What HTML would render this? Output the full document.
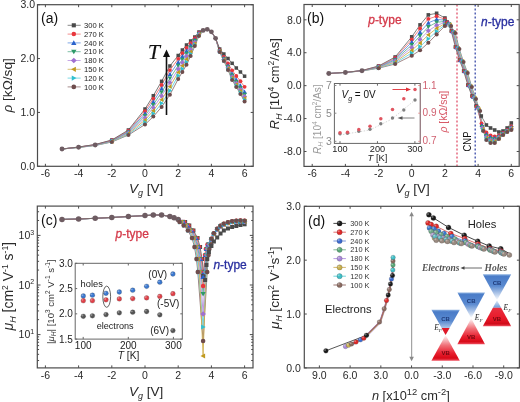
<!DOCTYPE html>
<html><head><meta charset="utf-8"><style>
html,body{margin:0;padding:0;background:#fff;overflow:hidden;width:520px;height:402px;}
svg{display:block;filter:blur(0.25px);}
</style></head><body>
<svg width="520" height="402" viewBox="0 0 520 402">
<rect width="520" height="402" fill="#fff"/>
<polyline points="62.00,149.00 78.60,147.50 95.20,145.50 111.80,142.00 128.40,135.00 145.00,124.50 153.30,116.60 161.60,107.00 169.90,94.80 178.20,79.00 182.35,72.00 186.50,64.80 190.65,56.00 194.80,46.00 198.95,36.00 203.10,31.00 207.25,29.50 211.40,32.00 215.55,38.50 219.70,52.00 223.85,61.00 228.00,70.00 232.15,80.00 236.30,87.00 240.45,94.00 244.60,101.50" fill="none" stroke="#907070" stroke-width="0.9" stroke-opacity="1.0"/>
<polyline points="62.00,149.00 78.60,147.43 95.20,145.36 111.80,141.71 128.40,134.29 145.00,122.29 153.30,113.61 161.60,103.33 169.90,90.69 178.20,75.64 182.35,68.86 186.50,61.97 190.65,53.86 194.80,44.71 198.95,35.43 203.10,30.83 207.25,29.46 211.40,31.96 215.55,38.47 219.70,51.79 223.85,60.51 228.00,69.19 232.15,78.83 236.30,85.67 240.45,92.46 244.60,99.73" fill="none" stroke="#60d0e0" stroke-width="0.9" stroke-opacity="1.0"/>
<polyline points="62.00,149.00 78.60,147.36 95.20,145.21 111.80,141.43 128.40,133.57 145.00,120.07 153.30,110.63 161.60,99.66 169.90,86.57 178.20,72.29 182.35,65.71 186.50,59.14 190.65,51.71 194.80,43.43 198.95,34.86 203.10,30.66 207.25,29.41 211.40,31.93 215.55,38.44 219.70,51.61 223.85,60.09 228.00,68.50 232.15,77.83 236.30,84.53 240.45,91.14 244.60,98.21" fill="none" stroke="#d0b050" stroke-width="0.9" stroke-opacity="1.0"/>
<polyline points="62.00,149.00 78.60,147.29 95.20,145.07 111.80,141.14 128.40,132.86 145.00,117.86 153.30,107.64 161.60,95.99 169.90,82.46 178.20,68.93 182.35,62.57 186.50,56.31 190.65,49.57 194.80,42.14 198.95,34.29 203.10,30.49 207.25,29.37 211.40,31.90 215.55,38.40 219.70,51.40 223.85,59.60 228.00,67.70 232.15,76.66 236.30,83.20 240.45,89.60 244.60,96.44" fill="none" stroke="#b890e0" stroke-width="0.9" stroke-opacity="1.0"/>
<polyline points="62.00,149.00 78.60,147.21 95.20,144.93 111.80,140.86 128.40,132.14 145.00,115.64 153.30,104.66 161.60,92.31 169.90,78.34 178.20,65.57 182.35,59.43 186.50,53.49 190.65,47.43 194.80,40.86 198.95,33.71 203.10,30.31 207.25,29.33 211.40,31.86 215.55,38.36 219.70,51.16 223.85,59.04 228.00,66.78 232.15,75.32 236.30,81.68 240.45,87.84 244.60,94.42" fill="none" stroke="#60b090" stroke-width="0.9" stroke-opacity="1.0"/>
<polyline points="62.00,149.00 78.60,147.14 95.20,144.79 111.80,140.57 128.40,131.43 145.00,113.43 153.30,101.67 161.60,88.64 169.90,74.23 178.20,62.21 182.35,56.29 186.50,50.66 190.65,45.29 194.80,39.57 198.95,33.14 203.10,30.14 207.25,29.29 211.40,31.81 215.55,38.31 219.70,50.86 223.85,58.34 228.00,65.63 232.15,73.65 236.30,79.78 240.45,85.64 244.60,91.89" fill="none" stroke="#6090e0" stroke-width="0.9" stroke-opacity="1.0"/>
<polyline points="62.00,149.00 78.60,147.07 95.20,144.64 111.80,140.29 128.40,130.71 145.00,111.21 153.30,98.69 161.60,84.97 169.90,70.11 178.20,58.86 182.35,53.14 186.50,47.83 190.65,43.14 194.80,38.29 198.95,32.57 203.10,29.97 207.25,29.24 211.40,31.71 215.55,38.21 219.70,50.26 223.85,56.94 228.00,63.33 232.15,70.31 236.30,75.98 240.45,81.24 244.60,86.83" fill="none" stroke="#f07070" stroke-width="0.9" stroke-opacity="1.0"/>
<polyline points="62.00,149.00 78.60,147.00 95.20,144.50 111.80,140.00 128.40,130.00 145.00,109.00 153.30,95.70 161.60,81.30 169.90,66.00 178.20,55.50 182.35,50.00 186.50,45.00 190.65,41.00 194.80,37.00 198.95,32.00 203.10,29.80 207.25,29.20 211.40,31.50 215.55,38.00 219.70,49.00 223.85,54.00 228.00,58.50 232.15,63.30 236.30,68.00 240.45,72.00 244.60,76.20" fill="none" stroke="#6a6a6a" stroke-width="0.9" stroke-opacity="1.0"/>
<circle cx="62.00" cy="149.00" r="2.42" fill="#6e5c62"/>
<circle cx="78.60" cy="147.25" r="2.42" fill="#6e5c62"/>
<circle cx="95.20" cy="145.00" r="2.42" fill="#6e5c62"/>
<rect x="110.05" y="138.25" width="3.50" height="3.50" fill="#4a4a4a"/>
<circle cx="111.80" cy="140.29" r="1.93" fill="#e8363c"/>
<polygon points="111.80,138.30 109.52,142.32 114.08,142.32" fill="#2a62cc"/>
<polygon points="111.80,143.13 109.52,139.11 114.08,139.11" fill="#2e9a68"/>
<polygon points="111.80,138.69 109.35,141.14 111.80,143.59 114.25,141.14" fill="#a070d0"/>
<polygon points="109.52,141.43 113.55,139.15 113.55,143.70" fill="#c09a20"/>
<polygon points="114.08,141.71 110.05,139.44 110.05,143.99" fill="#30c0d0"/>
<circle cx="111.80" cy="142.00" r="2.01" fill="#6e4c4c"/>
<rect x="126.65" y="128.25" width="3.50" height="3.50" fill="#4a4a4a"/>
<circle cx="128.40" cy="130.71" r="1.93" fill="#e8363c"/>
<polygon points="128.40,129.15 126.12,133.18 130.68,133.18" fill="#2a62cc"/>
<polygon points="128.40,134.42 126.12,130.39 130.68,130.39" fill="#2e9a68"/>
<polygon points="128.40,130.41 125.95,132.86 128.40,135.31 130.85,132.86" fill="#a070d0"/>
<polygon points="126.12,133.57 130.15,131.30 130.15,135.85" fill="#c09a20"/>
<polygon points="130.68,134.29 126.65,132.01 126.65,136.56" fill="#30c0d0"/>
<circle cx="128.40" cy="135.00" r="2.01" fill="#6e4c4c"/>
<rect x="143.25" y="107.25" width="3.50" height="3.50" fill="#4a4a4a"/>
<circle cx="145.00" cy="111.21" r="1.93" fill="#e8363c"/>
<polygon points="145.00,111.15 142.72,115.18 147.28,115.18" fill="#2a62cc"/>
<polygon points="145.00,117.92 142.72,113.89 147.28,113.89" fill="#2e9a68"/>
<polygon points="145.00,115.41 142.55,117.86 145.00,120.31 147.45,117.86" fill="#a070d0"/>
<polygon points="142.72,120.07 146.75,117.80 146.75,122.35" fill="#c09a20"/>
<polygon points="147.28,122.29 143.25,120.01 143.25,124.56" fill="#30c0d0"/>
<circle cx="145.00" cy="124.50" r="2.01" fill="#6e4c4c"/>
<rect x="151.55" y="93.95" width="3.50" height="3.50" fill="#4a4a4a"/>
<circle cx="153.30" cy="98.69" r="1.93" fill="#e8363c"/>
<polygon points="153.30,99.40 151.03,103.42 155.58,103.42" fill="#2a62cc"/>
<polygon points="153.30,106.93 151.03,102.91 155.58,102.91" fill="#2e9a68"/>
<polygon points="153.30,105.19 150.85,107.64 153.30,110.09 155.75,107.64" fill="#a070d0"/>
<polygon points="151.03,110.63 155.05,108.35 155.05,112.90" fill="#c09a20"/>
<polygon points="155.58,113.61 151.55,111.34 151.55,115.89" fill="#30c0d0"/>
<circle cx="153.30" cy="116.60" r="2.01" fill="#6e4c4c"/>
<rect x="159.85" y="79.55" width="3.50" height="3.50" fill="#4a4a4a"/>
<circle cx="161.60" cy="84.97" r="1.93" fill="#e8363c"/>
<polygon points="161.60,86.37 159.32,90.39 163.88,90.39" fill="#2a62cc"/>
<polygon points="161.60,94.59 159.32,90.56 163.88,90.56" fill="#2e9a68"/>
<polygon points="161.60,93.54 159.15,95.99 161.60,98.44 164.05,95.99" fill="#a070d0"/>
<polygon points="159.32,99.66 163.35,97.38 163.35,101.93" fill="#c09a20"/>
<polygon points="163.88,103.33 159.85,101.05 159.85,105.60" fill="#30c0d0"/>
<circle cx="161.60" cy="107.00" r="2.01" fill="#6e4c4c"/>
<rect x="168.15" y="64.25" width="3.50" height="3.50" fill="#4a4a4a"/>
<circle cx="169.90" cy="70.11" r="1.93" fill="#e8363c"/>
<polygon points="169.90,71.95 167.62,75.98 172.18,75.98" fill="#2a62cc"/>
<polygon points="169.90,80.62 167.62,76.59 172.18,76.59" fill="#2e9a68"/>
<polygon points="169.90,80.01 167.45,82.46 169.90,84.91 172.35,82.46" fill="#a070d0"/>
<polygon points="167.62,86.57 171.65,84.30 171.65,88.85" fill="#c09a20"/>
<polygon points="172.18,90.69 168.15,88.41 168.15,92.96" fill="#30c0d0"/>
<circle cx="169.90" cy="94.80" r="2.01" fill="#6e4c4c"/>
<rect x="176.45" y="53.75" width="3.50" height="3.50" fill="#4a4a4a"/>
<circle cx="178.20" cy="58.86" r="1.93" fill="#e8363c"/>
<polygon points="178.20,59.94 175.92,63.96 180.47,63.96" fill="#2a62cc"/>
<polygon points="178.20,67.85 175.92,63.82 180.47,63.82" fill="#2e9a68"/>
<polygon points="178.20,66.48 175.75,68.93 178.20,71.38 180.65,68.93" fill="#a070d0"/>
<polygon points="175.92,72.29 179.95,70.01 179.95,74.56" fill="#c09a20"/>
<polygon points="180.47,75.64 176.45,73.37 176.45,77.92" fill="#30c0d0"/>
<circle cx="178.20" cy="79.00" r="2.01" fill="#6e4c4c"/>
<rect x="180.60" y="48.25" width="3.50" height="3.50" fill="#4a4a4a"/>
<circle cx="182.35" cy="53.14" r="1.93" fill="#e8363c"/>
<polygon points="182.35,54.01 180.07,58.04 184.62,58.04" fill="#2a62cc"/>
<polygon points="182.35,61.70 180.07,57.68 184.62,57.68" fill="#2e9a68"/>
<polygon points="182.35,60.12 179.90,62.57 182.35,65.02 184.80,62.57" fill="#a070d0"/>
<polygon points="180.07,65.71 184.10,63.44 184.10,67.99" fill="#c09a20"/>
<polygon points="184.62,68.86 180.60,66.58 180.60,71.13" fill="#30c0d0"/>
<circle cx="182.35" cy="72.00" r="2.01" fill="#6e4c4c"/>
<rect x="184.75" y="43.25" width="3.50" height="3.50" fill="#4a4a4a"/>
<circle cx="186.50" cy="47.83" r="1.93" fill="#e8363c"/>
<polygon points="186.50,48.38 184.22,52.41 188.78,52.41" fill="#2a62cc"/>
<polygon points="186.50,55.76 184.22,51.74 188.78,51.74" fill="#2e9a68"/>
<polygon points="186.50,53.86 184.05,56.31 186.50,58.76 188.95,56.31" fill="#a070d0"/>
<polygon points="184.22,59.14 188.25,56.87 188.25,61.42" fill="#c09a20"/>
<polygon points="188.78,61.97 184.75,59.70 184.75,64.25" fill="#30c0d0"/>
<circle cx="186.50" cy="64.80" r="2.01" fill="#6e4c4c"/>
<rect x="188.90" y="39.25" width="3.50" height="3.50" fill="#4a4a4a"/>
<circle cx="190.65" cy="43.14" r="1.93" fill="#e8363c"/>
<polygon points="190.65,43.01 188.38,47.04 192.93,47.04" fill="#2a62cc"/>
<polygon points="190.65,49.70 188.38,45.68 192.93,45.68" fill="#2e9a68"/>
<polygon points="190.65,47.12 188.20,49.57 190.65,52.02 193.10,49.57" fill="#a070d0"/>
<polygon points="188.38,51.71 192.40,49.44 192.40,53.99" fill="#c09a20"/>
<polygon points="192.93,53.86 188.90,51.58 188.90,56.13" fill="#30c0d0"/>
<circle cx="190.65" cy="56.00" r="2.01" fill="#6e4c4c"/>
<rect x="193.05" y="35.25" width="3.50" height="3.50" fill="#4a4a4a"/>
<circle cx="194.80" cy="38.29" r="1.93" fill="#e8363c"/>
<polygon points="194.80,37.30 192.53,41.32 197.08,41.32" fill="#2a62cc"/>
<polygon points="194.80,43.13 192.53,39.11 197.08,39.11" fill="#2e9a68"/>
<polygon points="194.80,39.69 192.35,42.14 194.80,44.59 197.25,42.14" fill="#a070d0"/>
<polygon points="192.53,43.43 196.55,41.15 196.55,45.70" fill="#c09a20"/>
<polygon points="197.08,44.71 193.05,42.44 193.05,46.99" fill="#30c0d0"/>
<circle cx="194.80" cy="46.00" r="2.01" fill="#6e4c4c"/>
<rect x="197.20" y="30.25" width="3.50" height="3.50" fill="#4a4a4a"/>
<circle cx="198.95" cy="32.57" r="1.93" fill="#e8363c"/>
<polygon points="198.95,30.87 196.67,34.89 201.22,34.89" fill="#2a62cc"/>
<polygon points="198.95,35.99 196.67,31.96 201.22,31.96" fill="#2e9a68"/>
<polygon points="198.95,31.84 196.50,34.29 198.95,36.74 201.40,34.29" fill="#a070d0"/>
<polygon points="196.67,34.86 200.70,32.58 200.70,37.13" fill="#c09a20"/>
<polygon points="201.22,35.43 197.20,33.15 197.20,37.70" fill="#30c0d0"/>
<circle cx="198.95" cy="36.00" r="2.01" fill="#6e4c4c"/>
<circle cx="203.10" cy="30.40" r="2.42" fill="#6e5c62"/>
<circle cx="207.25" cy="29.35" r="2.42" fill="#6e5c62"/>
<circle cx="211.40" cy="31.84" r="2.42" fill="#6e5c62"/>
<circle cx="215.55" cy="38.34" r="2.42" fill="#6e5c62"/>
<rect x="217.95" y="47.25" width="3.50" height="3.50" fill="#4a4a4a"/>
<circle cx="219.70" cy="50.26" r="1.93" fill="#e8363c"/>
<polygon points="219.70,48.59 217.42,52.61 221.97,52.61" fill="#2a62cc"/>
<polygon points="219.70,53.43 217.42,49.41 221.97,49.41" fill="#2e9a68"/>
<polygon points="219.70,48.95 217.25,51.40 219.70,53.85 222.15,51.40" fill="#a070d0"/>
<polygon points="217.42,51.61 221.45,49.34 221.45,53.88" fill="#c09a20"/>
<polygon points="221.97,51.79 217.95,49.52 217.95,54.06" fill="#30c0d0"/>
<circle cx="219.70" cy="52.00" r="2.01" fill="#6e4c4c"/>
<rect x="222.10" y="52.25" width="3.50" height="3.50" fill="#4a4a4a"/>
<circle cx="223.85" cy="56.94" r="1.93" fill="#e8363c"/>
<polygon points="223.85,56.07 221.58,60.09 226.13,60.09" fill="#2a62cc"/>
<polygon points="223.85,61.31 221.58,57.29 226.13,57.29" fill="#2e9a68"/>
<polygon points="223.85,57.15 221.40,59.60 223.85,62.05 226.30,59.60" fill="#a070d0"/>
<polygon points="221.58,60.09 225.60,57.82 225.60,62.37" fill="#c09a20"/>
<polygon points="226.13,60.51 222.10,58.23 222.10,62.78" fill="#30c0d0"/>
<circle cx="223.85" cy="61.00" r="2.01" fill="#6e4c4c"/>
<rect x="226.25" y="56.75" width="3.50" height="3.50" fill="#4a4a4a"/>
<circle cx="228.00" cy="63.33" r="1.93" fill="#e8363c"/>
<polygon points="228.00,63.35 225.72,67.38 230.28,67.38" fill="#2a62cc"/>
<polygon points="228.00,69.06 225.72,65.03 230.28,65.03" fill="#2e9a68"/>
<polygon points="228.00,65.25 225.55,67.70 228.00,70.15 230.45,67.70" fill="#a070d0"/>
<polygon points="225.72,68.50 229.75,66.23 229.75,70.78" fill="#c09a20"/>
<polygon points="230.28,69.19 226.25,66.92 226.25,71.47" fill="#30c0d0"/>
<circle cx="228.00" cy="70.00" r="2.01" fill="#6e4c4c"/>
<rect x="230.40" y="61.55" width="3.50" height="3.50" fill="#4a4a4a"/>
<circle cx="232.15" cy="70.31" r="1.93" fill="#e8363c"/>
<polygon points="232.15,71.38 229.88,75.40 234.43,75.40" fill="#2a62cc"/>
<polygon points="232.15,77.60 229.88,73.57 234.43,73.57" fill="#2e9a68"/>
<polygon points="232.15,74.21 229.70,76.66 232.15,79.11 234.60,76.66" fill="#a070d0"/>
<polygon points="229.88,77.83 233.90,75.55 233.90,80.10" fill="#c09a20"/>
<polygon points="234.43,78.83 230.40,76.56 230.40,81.11" fill="#30c0d0"/>
<circle cx="232.15" cy="80.00" r="2.01" fill="#6e4c4c"/>
<rect x="234.55" y="66.25" width="3.50" height="3.50" fill="#4a4a4a"/>
<circle cx="236.30" cy="75.98" r="1.93" fill="#e8363c"/>
<polygon points="236.30,77.50 234.03,81.53 238.58,81.53" fill="#2a62cc"/>
<polygon points="236.30,83.96 234.03,79.93 238.58,79.93" fill="#2e9a68"/>
<polygon points="236.30,80.75 233.85,83.20 236.30,85.65 238.75,83.20" fill="#a070d0"/>
<polygon points="234.03,84.53 238.05,82.25 238.05,86.81" fill="#c09a20"/>
<polygon points="238.58,85.67 234.55,83.39 234.55,87.95" fill="#30c0d0"/>
<circle cx="236.30" cy="87.00" r="2.01" fill="#6e4c4c"/>
<rect x="238.70" y="70.25" width="3.50" height="3.50" fill="#4a4a4a"/>
<circle cx="240.45" cy="81.24" r="1.93" fill="#e8363c"/>
<polygon points="240.45,83.36 238.17,87.39 242.72,87.39" fill="#2a62cc"/>
<polygon points="240.45,90.12 238.17,86.09 242.72,86.09" fill="#2e9a68"/>
<polygon points="240.45,87.15 238.00,89.60 240.45,92.05 242.90,89.60" fill="#a070d0"/>
<polygon points="238.17,91.14 242.20,88.86 242.20,93.42" fill="#c09a20"/>
<polygon points="242.72,92.46 238.70,90.19 238.70,94.74" fill="#30c0d0"/>
<circle cx="240.45" cy="94.00" r="2.01" fill="#6e4c4c"/>
<rect x="242.85" y="74.45" width="3.50" height="3.50" fill="#4a4a4a"/>
<circle cx="244.60" cy="86.83" r="1.93" fill="#e8363c"/>
<polygon points="244.60,89.61 242.33,93.64 246.88,93.64" fill="#2a62cc"/>
<polygon points="244.60,96.69 242.33,92.67 246.88,92.67" fill="#2e9a68"/>
<polygon points="244.60,93.99 242.15,96.44 244.60,98.89 247.05,96.44" fill="#a070d0"/>
<polygon points="242.33,98.21 246.35,95.94 246.35,100.49" fill="#c09a20"/>
<polygon points="246.88,99.73 242.85,97.45 242.85,102.00" fill="#30c0d0"/>
<circle cx="244.60" cy="101.50" r="2.01" fill="#6e4c4c"/>
<rect x="37.5" y="4.7" width="215.7" height="161.60000000000002" fill="none" stroke="#4c4c4c" stroke-width="1.2"/>
<line x1="45.40" y1="166.30" x2="45.40" y2="163.80" stroke="#4c4c4c" stroke-width="1"/>
<line x1="45.40" y1="4.70" x2="45.40" y2="7.20" stroke="#4c4c4c" stroke-width="1"/>
<text x="45.40" y="177.30" font-size="10.5" text-anchor="middle" fill="#2a2a2a" font-family='"Liberation Sans", sans-serif' >-6</text>
<line x1="78.60" y1="166.30" x2="78.60" y2="163.80" stroke="#4c4c4c" stroke-width="1"/>
<line x1="78.60" y1="4.70" x2="78.60" y2="7.20" stroke="#4c4c4c" stroke-width="1"/>
<text x="78.60" y="177.30" font-size="10.5" text-anchor="middle" fill="#2a2a2a" font-family='"Liberation Sans", sans-serif' >-4</text>
<line x1="111.80" y1="166.30" x2="111.80" y2="163.80" stroke="#4c4c4c" stroke-width="1"/>
<line x1="111.80" y1="4.70" x2="111.80" y2="7.20" stroke="#4c4c4c" stroke-width="1"/>
<text x="111.80" y="177.30" font-size="10.5" text-anchor="middle" fill="#2a2a2a" font-family='"Liberation Sans", sans-serif' >-2</text>
<line x1="145.00" y1="166.30" x2="145.00" y2="163.80" stroke="#4c4c4c" stroke-width="1"/>
<line x1="145.00" y1="4.70" x2="145.00" y2="7.20" stroke="#4c4c4c" stroke-width="1"/>
<text x="145.00" y="177.30" font-size="10.5" text-anchor="middle" fill="#2a2a2a" font-family='"Liberation Sans", sans-serif' >0</text>
<line x1="178.20" y1="166.30" x2="178.20" y2="163.80" stroke="#4c4c4c" stroke-width="1"/>
<line x1="178.20" y1="4.70" x2="178.20" y2="7.20" stroke="#4c4c4c" stroke-width="1"/>
<text x="178.20" y="177.30" font-size="10.5" text-anchor="middle" fill="#2a2a2a" font-family='"Liberation Sans", sans-serif' >2</text>
<line x1="211.40" y1="166.30" x2="211.40" y2="163.80" stroke="#4c4c4c" stroke-width="1"/>
<line x1="211.40" y1="4.70" x2="211.40" y2="7.20" stroke="#4c4c4c" stroke-width="1"/>
<text x="211.40" y="177.30" font-size="10.5" text-anchor="middle" fill="#2a2a2a" font-family='"Liberation Sans", sans-serif' >4</text>
<line x1="244.60" y1="166.30" x2="244.60" y2="163.80" stroke="#4c4c4c" stroke-width="1"/>
<line x1="244.60" y1="4.70" x2="244.60" y2="7.20" stroke="#4c4c4c" stroke-width="1"/>
<text x="244.60" y="177.30" font-size="10.5" text-anchor="middle" fill="#2a2a2a" font-family='"Liberation Sans", sans-serif' >6</text>
<line x1="37.50" y1="166.30" x2="40.00" y2="166.30" stroke="#4c4c4c" stroke-width="1"/>
<line x1="253.20" y1="166.30" x2="250.70" y2="166.30" stroke="#4c4c4c" stroke-width="1"/>
<text x="35.00" y="170.00" font-size="10.5" text-anchor="end" fill="#2a2a2a" font-family='"Liberation Sans", sans-serif' >0.0</text>
<line x1="37.50" y1="112.43" x2="40.00" y2="112.43" stroke="#4c4c4c" stroke-width="1"/>
<line x1="253.20" y1="112.43" x2="250.70" y2="112.43" stroke="#4c4c4c" stroke-width="1"/>
<text x="35.00" y="116.13" font-size="10.5" text-anchor="end" fill="#2a2a2a" font-family='"Liberation Sans", sans-serif' >1.0</text>
<line x1="37.50" y1="58.56" x2="40.00" y2="58.56" stroke="#4c4c4c" stroke-width="1"/>
<line x1="253.20" y1="58.56" x2="250.70" y2="58.56" stroke="#4c4c4c" stroke-width="1"/>
<text x="35.00" y="62.26" font-size="10.5" text-anchor="end" fill="#2a2a2a" font-family='"Liberation Sans", sans-serif' >2.0</text>
<line x1="37.50" y1="4.69" x2="40.00" y2="4.69" stroke="#4c4c4c" stroke-width="1"/>
<line x1="253.20" y1="4.69" x2="250.70" y2="4.69" stroke="#4c4c4c" stroke-width="1"/>
<text x="35.00" y="8.39" font-size="10.5" text-anchor="end" fill="#2a2a2a" font-family='"Liberation Sans", sans-serif' >3.0</text>
<line x1="67.6" y1="25.3" x2="80.7" y2="25.3" stroke="#6a6a6a" stroke-width="0.8"/>
<rect x="71.75" y="23.25" width="4.10" height="4.10" fill="#4a4a4a"/>
<text x="84.00" y="28.00" font-size="7.6" text-anchor="start" fill="#222" font-family='"Liberation Sans", sans-serif' >300 K</text>
<line x1="67.6" y1="34.1" x2="80.7" y2="34.1" stroke="#f07070" stroke-width="0.8"/>
<circle cx="73.80" cy="34.10" r="2.25" fill="#e8363c"/>
<text x="84.00" y="36.80" font-size="7.6" text-anchor="start" fill="#222" font-family='"Liberation Sans", sans-serif' >270 K</text>
<line x1="67.6" y1="42.900000000000006" x2="80.7" y2="42.900000000000006" stroke="#6090e0" stroke-width="0.8"/>
<polygon points="73.80,40.24 71.13,44.95 76.47,44.95" fill="#2a62cc"/>
<text x="84.00" y="45.60" font-size="7.6" text-anchor="start" fill="#222" font-family='"Liberation Sans", sans-serif' >240 K</text>
<line x1="67.6" y1="51.7" x2="80.7" y2="51.7" stroke="#60b090" stroke-width="0.8"/>
<polygon points="73.80,54.37 71.13,49.65 76.47,49.65" fill="#2e9a68"/>
<text x="84.00" y="54.40" font-size="7.6" text-anchor="start" fill="#222" font-family='"Liberation Sans", sans-serif' >210 K</text>
<line x1="67.6" y1="60.5" x2="80.7" y2="60.5" stroke="#b890e0" stroke-width="0.8"/>
<polygon points="73.80,57.63 70.93,60.50 73.80,63.37 76.67,60.50" fill="#a070d0"/>
<text x="84.00" y="63.20" font-size="7.6" text-anchor="start" fill="#222" font-family='"Liberation Sans", sans-serif' >180 K</text>
<line x1="67.6" y1="69.3" x2="80.7" y2="69.3" stroke="#d0b050" stroke-width="0.8"/>
<polygon points="71.13,69.30 75.85,66.63 75.85,71.97" fill="#c09a20"/>
<text x="84.00" y="72.00" font-size="7.6" text-anchor="start" fill="#222" font-family='"Liberation Sans", sans-serif' >150 K</text>
<line x1="67.6" y1="78.10000000000001" x2="80.7" y2="78.10000000000001" stroke="#60d0e0" stroke-width="0.8"/>
<polygon points="76.47,78.10 71.75,75.44 71.75,80.77" fill="#30c0d0"/>
<text x="84.00" y="80.80" font-size="7.6" text-anchor="start" fill="#222" font-family='"Liberation Sans", sans-serif' >120 K</text>
<line x1="67.6" y1="86.9" x2="80.7" y2="86.9" stroke="#907070" stroke-width="0.8"/>
<circle cx="73.80" cy="86.90" r="2.36" fill="#6e4c4c"/>
<text x="84.00" y="89.60" font-size="7.6" text-anchor="start" fill="#222" font-family='"Liberation Sans", sans-serif' >100 K</text>
<text x="41.00" y="22.60" font-size="14" text-anchor="start" fill="#111" font-family='"Liberation Sans", sans-serif' >(a)</text>
<line x1="166.5" y1="115" x2="166.5" y2="55" stroke="#111" stroke-width="1.6"/>
<polygon points="166.5,49.5 163,57 170,57" fill="#111"/>
<text x="153.80" y="59.30" font-size="22" text-anchor="middle" fill="#111" font-family='"Liberation Serif", serif' font-style="italic" stroke="#111" stroke-width="0.12">T</text>
<text x="129" y="193.2" font-size="13.5" fill="#2a2a2a" font-family='"Liberation Sans", sans-serif'><tspan font-style="italic">V</tspan><tspan font-size="9" dy="3" font-style="italic">g</tspan><tspan dy="-3"> [V]</tspan></text>
<text transform="translate(11.8,112.5) rotate(-90)" font-size="13.6" fill="#2a2a2a" font-family='"Liberation Sans", sans-serif'><tspan font-style="italic">ρ</tspan> [kΩ/sq]</text>
<line x1="457" y1="4.5" x2="457" y2="166.4" stroke="#e0506a" stroke-width="1.3" stroke-dasharray="2,2"/>
<line x1="475.2" y1="4.5" x2="475.2" y2="166.4" stroke="#3a4aa8" stroke-width="1.3" stroke-dasharray="2,2"/>
<polyline points="328.80,73.50 345.39,72.40 361.98,71.00 378.57,68.20 395.16,64.00 411.75,55.70 420.05,50.30 428.34,42.80 436.63,34.40 444.93,25.90 451.08,26.00 455.23,33.00 459.37,49.00 463.52,62.00 467.67,73.00 471.81,87.00 475.96,99.00 480.11,111.00 483.26,131.00 486.40,140.00 490.55,143.00 494.70,143.00 498.85,139.00 503.00,135.00 507.14,132.00 511.29,130.00" fill="none" stroke="#907070" stroke-width="0.85" stroke-opacity="1.0"/>
<polyline points="328.80,73.50 345.39,72.40 361.98,70.93 378.57,67.89 395.16,63.00 411.75,53.00 420.05,46.67 428.34,38.81 436.63,31.39 444.93,24.77 450.51,25.43 454.65,32.71 458.80,48.71 462.95,61.71 467.10,72.71 471.24,86.71 475.39,98.57 479.54,110.29 482.97,129.95 486.40,138.95 490.55,141.95 494.70,142.09 498.85,138.51 503.00,134.72 507.14,131.72 511.29,129.51" fill="none" stroke="#60d0e0" stroke-width="0.85" stroke-opacity="1.0"/>
<polyline points="328.80,73.50 345.39,72.40 361.98,70.86 378.57,67.57 395.16,62.00 411.75,50.30 420.05,43.04 428.34,34.83 436.63,28.37 444.93,23.64 449.93,24.86 454.08,32.43 458.23,48.43 462.38,61.43 466.52,72.43 470.67,86.43 474.82,98.14 478.97,109.57 482.69,129.05 486.40,138.05 490.55,141.05 494.70,141.31 498.85,138.09 503.00,134.48 507.14,131.48 511.29,129.09" fill="none" stroke="#d0b050" stroke-width="0.85" stroke-opacity="1.0"/>
<polyline points="328.80,73.50 345.39,72.40 361.98,70.79 378.57,67.26 395.16,61.00 411.75,47.60 420.05,39.41 428.34,30.84 436.63,25.36 444.93,22.51 449.36,24.29 453.51,32.14 457.66,48.14 461.81,61.14 465.95,72.14 470.10,86.14 474.25,97.71 478.40,108.86 482.40,128.00 486.40,137.00 490.55,140.00 494.70,140.40 498.85,137.60 503.00,134.20 507.14,131.20 511.29,128.60" fill="none" stroke="#b890e0" stroke-width="0.85" stroke-opacity="1.0"/>
<polyline points="328.80,73.50 345.39,72.40 361.98,70.71 378.57,66.94 395.16,60.00 411.75,44.90 420.05,35.79 428.34,26.86 436.63,22.34 444.93,21.39 448.79,23.71 452.94,31.86 457.09,47.86 461.23,60.86 465.38,71.86 469.53,85.86 473.68,97.29 477.82,108.14 482.11,126.80 486.40,135.80 490.55,138.80 494.70,139.36 498.85,137.04 503.00,133.88 507.14,130.88 511.29,128.04" fill="none" stroke="#60b090" stroke-width="0.85" stroke-opacity="1.0"/>
<polyline points="328.80,73.50 345.39,72.40 361.98,70.64 378.57,66.63 395.16,59.00 411.75,42.20 420.05,32.16 428.34,22.87 436.63,19.33 444.93,20.26 448.22,23.14 452.37,31.57 456.52,47.57 460.66,60.57 464.81,71.57 468.96,85.57 473.11,96.86 477.25,107.43 481.83,125.30 486.40,134.30 490.55,137.30 494.70,138.06 498.85,136.34 503.00,133.48 507.14,130.48 511.29,127.34" fill="none" stroke="#6090e0" stroke-width="0.85" stroke-opacity="1.0"/>
<polyline points="328.80,73.50 345.39,72.40 361.98,70.57 378.57,66.31 395.16,58.00 411.75,39.50 420.05,28.53 428.34,18.89 436.63,16.31 444.93,19.13 447.65,22.57 451.80,31.29 455.94,47.29 460.09,60.29 464.24,71.29 468.39,85.29 472.53,96.43 476.68,106.71 481.54,123.50 486.40,132.50 490.55,135.50 494.70,136.50 498.85,135.50 503.00,133.00 507.14,130.00 511.29,126.50" fill="none" stroke="#f07070" stroke-width="0.85" stroke-opacity="1.0"/>
<polyline points="328.80,73.50 345.39,72.40 361.98,70.50 378.57,66.00 395.16,57.00 411.75,36.80 420.05,24.90 428.34,14.90 436.63,13.30 444.93,18.00 447.08,22.00 451.23,31.00 455.37,47.00 459.52,60.00 463.67,71.00 467.81,85.00 471.96,96.00 476.11,106.00 481.26,116.00 486.40,125.00 490.55,128.00 494.70,130.00 498.85,132.00 503.00,131.00 507.14,128.00 511.29,123.00" fill="none" stroke="#6a6a6a" stroke-width="0.85" stroke-opacity="1.0"/>
<circle cx="328.80" cy="73.50" r="2.48" fill="#6e5c62"/>
<circle cx="345.39" cy="72.40" r="2.48" fill="#6e5c62"/>
<circle cx="361.98" cy="70.75" r="2.48" fill="#6e5c62"/>
<rect x="376.77" y="64.20" width="3.60" height="3.60" fill="#4a4a4a"/>
<circle cx="378.57" cy="66.31" r="1.98" fill="#e8363c"/>
<polygon points="378.57,64.29 376.23,68.43 380.91,68.43" fill="#2a62cc"/>
<polygon points="378.57,69.28 376.23,65.14 380.91,65.14" fill="#2e9a68"/>
<polygon points="378.57,64.74 376.05,67.26 378.57,69.78 381.09,67.26" fill="#a070d0"/>
<polygon points="376.23,67.57 380.37,65.23 380.37,69.91" fill="#c09a20"/>
<polygon points="380.91,67.89 376.77,65.55 376.77,70.23" fill="#30c0d0"/>
<circle cx="378.57" cy="68.20" r="2.07" fill="#6e4c4c"/>
<rect x="393.36" y="55.20" width="3.60" height="3.60" fill="#4a4a4a"/>
<circle cx="395.16" cy="58.00" r="1.98" fill="#e8363c"/>
<polygon points="395.16,56.66 392.82,60.80 397.50,60.80" fill="#2a62cc"/>
<polygon points="395.16,62.34 392.82,58.20 397.50,58.20" fill="#2e9a68"/>
<polygon points="395.16,58.48 392.64,61.00 395.16,63.52 397.68,61.00" fill="#a070d0"/>
<polygon points="392.82,62.00 396.96,59.66 396.96,64.34" fill="#c09a20"/>
<polygon points="397.50,63.00 393.36,60.66 393.36,65.34" fill="#30c0d0"/>
<circle cx="395.16" cy="64.00" r="2.07" fill="#6e4c4c"/>
<rect x="409.95" y="35.00" width="3.60" height="3.60" fill="#4a4a4a"/>
<circle cx="411.75" cy="39.50" r="1.98" fill="#e8363c"/>
<polygon points="411.75,39.86 409.41,44.00 414.09,44.00" fill="#2a62cc"/>
<polygon points="411.75,47.24 409.41,43.10 414.09,43.10" fill="#2e9a68"/>
<polygon points="411.75,45.08 409.23,47.60 411.75,50.12 414.27,47.60" fill="#a070d0"/>
<polygon points="409.41,50.30 413.55,47.96 413.55,52.64" fill="#c09a20"/>
<polygon points="414.09,53.00 409.95,50.66 409.95,55.34" fill="#30c0d0"/>
<circle cx="411.75" cy="55.70" r="2.07" fill="#6e4c4c"/>
<rect x="418.25" y="23.10" width="3.60" height="3.60" fill="#4a4a4a"/>
<circle cx="420.05" cy="28.53" r="1.98" fill="#e8363c"/>
<polygon points="420.05,29.82 417.71,33.96 422.38,33.96" fill="#2a62cc"/>
<polygon points="420.05,38.13 417.71,33.99 422.38,33.99" fill="#2e9a68"/>
<polygon points="420.05,36.89 417.53,39.41 420.05,41.93 422.56,39.41" fill="#a070d0"/>
<polygon points="417.71,43.04 421.85,40.70 421.85,45.38" fill="#c09a20"/>
<polygon points="422.38,46.67 418.25,44.33 418.25,49.01" fill="#30c0d0"/>
<circle cx="420.05" cy="50.30" r="2.07" fill="#6e4c4c"/>
<rect x="426.54" y="13.10" width="3.60" height="3.60" fill="#4a4a4a"/>
<circle cx="428.34" cy="18.89" r="1.98" fill="#e8363c"/>
<polygon points="428.34,20.53 426.00,24.67 430.68,24.67" fill="#2a62cc"/>
<polygon points="428.34,29.20 426.00,25.06 430.68,25.06" fill="#2e9a68"/>
<polygon points="428.34,28.32 425.82,30.84 428.34,33.36 430.86,30.84" fill="#a070d0"/>
<polygon points="426.00,34.83 430.14,32.49 430.14,37.17" fill="#c09a20"/>
<polygon points="430.68,38.81 426.54,36.47 426.54,41.15" fill="#30c0d0"/>
<circle cx="428.34" cy="42.80" r="2.07" fill="#6e4c4c"/>
<rect x="434.83" y="11.50" width="3.60" height="3.60" fill="#4a4a4a"/>
<circle cx="436.63" cy="16.31" r="1.98" fill="#e8363c"/>
<polygon points="436.63,16.99 434.30,21.13 438.97,21.13" fill="#2a62cc"/>
<polygon points="436.63,24.68 434.30,20.54 438.97,20.54" fill="#2e9a68"/>
<polygon points="436.63,22.84 434.12,25.36 436.63,27.88 439.15,25.36" fill="#a070d0"/>
<polygon points="434.30,28.37 438.44,26.03 438.44,30.71" fill="#c09a20"/>
<polygon points="438.97,31.39 434.83,29.05 434.83,33.73" fill="#30c0d0"/>
<circle cx="436.63" cy="34.40" r="2.07" fill="#6e4c4c"/>
<rect x="443.13" y="16.20" width="3.60" height="3.60" fill="#4a4a4a"/>
<circle cx="444.93" cy="19.13" r="1.98" fill="#e8363c"/>
<polygon points="444.93,17.92 442.59,22.06 447.27,22.06" fill="#2a62cc"/>
<polygon points="444.93,23.73 442.59,19.59 447.27,19.59" fill="#2e9a68"/>
<polygon points="444.93,19.99 442.41,22.51 444.93,25.03 447.45,22.51" fill="#a070d0"/>
<polygon points="442.59,23.64 446.73,21.30 446.73,25.98" fill="#c09a20"/>
<polygon points="447.27,24.77 443.13,22.43 443.13,27.11" fill="#30c0d0"/>
<circle cx="444.93" cy="25.90" r="2.07" fill="#6e4c4c"/>
<rect x="445.28" y="20.20" width="3.60" height="3.60" fill="#4a4a4a"/>
<circle cx="447.65" cy="22.57" r="1.98" fill="#e8363c"/>
<polygon points="448.22,20.80 445.88,24.94 450.56,24.94" fill="#2a62cc"/>
<polygon points="448.79,26.05 446.45,21.91 451.13,21.91" fill="#2e9a68"/>
<polygon points="449.36,21.77 446.84,24.29 449.36,26.81 451.88,24.29" fill="#a070d0"/>
<polygon points="447.59,24.86 451.73,22.52 451.73,27.20" fill="#c09a20"/>
<polygon points="452.85,25.43 448.71,23.09 448.71,27.77" fill="#30c0d0"/>
<circle cx="451.08" cy="26.00" r="2.07" fill="#6e4c4c"/>
<rect x="449.43" y="29.20" width="3.60" height="3.60" fill="#4a4a4a"/>
<circle cx="451.80" cy="31.29" r="1.98" fill="#e8363c"/>
<polygon points="452.37,29.23 450.03,33.37 454.71,33.37" fill="#2a62cc"/>
<polygon points="452.94,34.20 450.60,30.06 455.28,30.06" fill="#2e9a68"/>
<polygon points="453.51,29.62 450.99,32.14 453.51,34.66 456.03,32.14" fill="#a070d0"/>
<polygon points="451.74,32.43 455.88,30.09 455.88,34.77" fill="#c09a20"/>
<polygon points="456.99,32.71 452.85,30.37 452.85,35.05" fill="#30c0d0"/>
<circle cx="455.23" cy="33.00" r="2.07" fill="#6e4c4c"/>
<rect x="453.57" y="45.20" width="3.60" height="3.60" fill="#4a4a4a"/>
<circle cx="455.94" cy="47.29" r="1.98" fill="#e8363c"/>
<polygon points="456.52,45.23 454.18,49.37 458.86,49.37" fill="#2a62cc"/>
<polygon points="457.09,50.20 454.75,46.06 459.43,46.06" fill="#2e9a68"/>
<polygon points="457.66,45.62 455.14,48.14 457.66,50.66 460.18,48.14" fill="#a070d0"/>
<polygon points="455.89,48.43 460.03,46.09 460.03,50.77" fill="#c09a20"/>
<polygon points="461.14,48.71 457.00,46.37 457.00,51.05" fill="#30c0d0"/>
<circle cx="459.37" cy="49.00" r="2.07" fill="#6e4c4c"/>
<rect x="457.72" y="58.20" width="3.60" height="3.60" fill="#4a4a4a"/>
<circle cx="460.09" cy="60.29" r="1.98" fill="#e8363c"/>
<polygon points="460.66,58.23 458.32,62.37 463.00,62.37" fill="#2a62cc"/>
<polygon points="461.23,63.20 458.89,59.06 463.57,59.06" fill="#2e9a68"/>
<polygon points="461.81,58.62 459.29,61.14 461.81,63.66 464.33,61.14" fill="#a070d0"/>
<polygon points="460.04,61.43 464.18,59.09 464.18,63.77" fill="#c09a20"/>
<polygon points="465.29,61.71 461.15,59.37 461.15,64.05" fill="#30c0d0"/>
<circle cx="463.52" cy="62.00" r="2.07" fill="#6e4c4c"/>
<rect x="461.87" y="69.20" width="3.60" height="3.60" fill="#4a4a4a"/>
<circle cx="464.24" cy="71.29" r="1.98" fill="#e8363c"/>
<polygon points="464.81,69.23 462.47,73.37 467.15,73.37" fill="#2a62cc"/>
<polygon points="465.38,74.20 463.04,70.06 467.72,70.06" fill="#2e9a68"/>
<polygon points="465.95,69.62 463.43,72.14 465.95,74.66 468.47,72.14" fill="#a070d0"/>
<polygon points="464.18,72.43 468.32,70.09 468.32,74.77" fill="#c09a20"/>
<polygon points="469.44,72.71 465.30,70.37 465.30,75.05" fill="#30c0d0"/>
<circle cx="467.67" cy="73.00" r="2.07" fill="#6e4c4c"/>
<rect x="466.01" y="83.20" width="3.60" height="3.60" fill="#4a4a4a"/>
<circle cx="468.39" cy="85.29" r="1.98" fill="#e8363c"/>
<polygon points="468.96,83.23 466.62,87.37 471.30,87.37" fill="#2a62cc"/>
<polygon points="469.53,88.20 467.19,84.06 471.87,84.06" fill="#2e9a68"/>
<polygon points="470.10,83.62 467.58,86.14 470.10,88.66 472.62,86.14" fill="#a070d0"/>
<polygon points="468.33,86.43 472.47,84.09 472.47,88.77" fill="#c09a20"/>
<polygon points="473.58,86.71 469.44,84.37 469.44,89.05" fill="#30c0d0"/>
<circle cx="471.81" cy="87.00" r="2.07" fill="#6e4c4c"/>
<rect x="470.16" y="94.20" width="3.60" height="3.60" fill="#4a4a4a"/>
<circle cx="472.53" cy="96.43" r="1.98" fill="#e8363c"/>
<polygon points="473.11,94.52 470.77,98.66 475.45,98.66" fill="#2a62cc"/>
<polygon points="473.68,99.63 471.34,95.49 476.02,95.49" fill="#2e9a68"/>
<polygon points="474.25,95.19 471.73,97.71 474.25,100.23 476.77,97.71" fill="#a070d0"/>
<polygon points="472.48,98.14 476.62,95.80 476.62,100.48" fill="#c09a20"/>
<polygon points="477.73,98.57 473.59,96.23 473.59,100.91" fill="#30c0d0"/>
<circle cx="475.96" cy="99.00" r="2.07" fill="#6e4c4c"/>
<rect x="474.31" y="104.20" width="3.60" height="3.60" fill="#4a4a4a"/>
<circle cx="476.68" cy="106.71" r="1.98" fill="#e8363c"/>
<polygon points="477.25,105.09 474.91,109.23 479.59,109.23" fill="#2a62cc"/>
<polygon points="477.82,110.48 475.48,106.34 480.16,106.34" fill="#2e9a68"/>
<polygon points="478.40,106.34 475.88,108.86 478.40,111.38 480.92,108.86" fill="#a070d0"/>
<polygon points="476.63,109.57 480.77,107.23 480.77,111.91" fill="#c09a20"/>
<polygon points="481.88,110.29 477.74,107.95 477.74,112.63" fill="#30c0d0"/>
<circle cx="480.11" cy="111.00" r="2.07" fill="#6e4c4c"/>
<rect x="479.46" y="114.20" width="3.60" height="3.60" fill="#4a4a4a"/>
<circle cx="481.54" cy="123.50" r="1.98" fill="#e8363c"/>
<polygon points="481.83,122.96 479.49,127.10 484.17,127.10" fill="#2a62cc"/>
<polygon points="482.11,129.14 479.77,125.00 484.45,125.00" fill="#2e9a68"/>
<polygon points="482.40,125.48 479.88,128.00 482.40,130.52 484.92,128.00" fill="#a070d0"/>
<polygon points="480.35,129.05 484.49,126.71 484.49,131.39" fill="#c09a20"/>
<polygon points="485.31,129.95 481.17,127.61 481.17,132.29" fill="#30c0d0"/>
<circle cx="483.26" cy="131.00" r="2.07" fill="#6e4c4c"/>
<rect x="484.60" y="123.20" width="3.60" height="3.60" fill="#4a4a4a"/>
<circle cx="486.40" cy="132.50" r="1.98" fill="#e8363c"/>
<polygon points="486.40,131.96 484.06,136.10 488.74,136.10" fill="#2a62cc"/>
<polygon points="486.40,138.14 484.06,134.00 488.74,134.00" fill="#2e9a68"/>
<polygon points="486.40,134.48 483.88,137.00 486.40,139.52 488.92,137.00" fill="#a070d0"/>
<polygon points="484.06,138.05 488.20,135.71 488.20,140.39" fill="#c09a20"/>
<polygon points="488.74,138.95 484.60,136.61 484.60,141.29" fill="#30c0d0"/>
<circle cx="486.40" cy="140.00" r="2.07" fill="#6e4c4c"/>
<rect x="488.75" y="126.20" width="3.60" height="3.60" fill="#4a4a4a"/>
<circle cx="490.55" cy="135.50" r="1.98" fill="#e8363c"/>
<polygon points="490.55,134.96 488.21,139.10 492.89,139.10" fill="#2a62cc"/>
<polygon points="490.55,141.14 488.21,137.00 492.89,137.00" fill="#2e9a68"/>
<polygon points="490.55,137.48 488.03,140.00 490.55,142.52 493.07,140.00" fill="#a070d0"/>
<polygon points="488.21,141.05 492.35,138.71 492.35,143.39" fill="#c09a20"/>
<polygon points="492.89,141.95 488.75,139.61 488.75,144.29" fill="#30c0d0"/>
<circle cx="490.55" cy="143.00" r="2.07" fill="#6e4c4c"/>
<rect x="492.90" y="128.20" width="3.60" height="3.60" fill="#4a4a4a"/>
<circle cx="494.70" cy="136.50" r="1.98" fill="#e8363c"/>
<polygon points="494.70,135.72 492.36,139.86 497.04,139.86" fill="#2a62cc"/>
<polygon points="494.70,141.70 492.36,137.56 497.04,137.56" fill="#2e9a68"/>
<polygon points="494.70,137.88 492.18,140.40 494.70,142.92 497.22,140.40" fill="#a070d0"/>
<polygon points="492.36,141.31 496.50,138.97 496.50,143.65" fill="#c09a20"/>
<polygon points="497.04,142.09 492.90,139.75 492.90,144.43" fill="#30c0d0"/>
<circle cx="494.70" cy="143.00" r="2.07" fill="#6e4c4c"/>
<rect x="497.05" y="130.20" width="3.60" height="3.60" fill="#4a4a4a"/>
<circle cx="498.85" cy="135.50" r="1.98" fill="#e8363c"/>
<polygon points="498.85,134.00 496.51,138.14 501.19,138.14" fill="#2a62cc"/>
<polygon points="498.85,139.38 496.51,135.24 501.19,135.24" fill="#2e9a68"/>
<polygon points="498.85,135.08 496.33,137.60 498.85,140.12 501.37,137.60" fill="#a070d0"/>
<polygon points="496.51,138.09 500.65,135.75 500.65,140.43" fill="#c09a20"/>
<polygon points="501.19,138.51 497.05,136.17 497.05,140.85" fill="#30c0d0"/>
<circle cx="498.85" cy="139.00" r="2.07" fill="#6e4c4c"/>
<rect x="501.19" y="129.20" width="3.60" height="3.60" fill="#4a4a4a"/>
<circle cx="503.00" cy="133.00" r="1.98" fill="#e8363c"/>
<polygon points="503.00,131.14 500.66,135.28 505.33,135.28" fill="#2a62cc"/>
<polygon points="503.00,136.22 500.66,132.08 505.33,132.08" fill="#2e9a68"/>
<polygon points="503.00,131.68 500.48,134.20 503.00,136.72 505.51,134.20" fill="#a070d0"/>
<polygon points="500.66,134.48 504.80,132.14 504.80,136.82" fill="#c09a20"/>
<polygon points="505.33,134.72 501.19,132.38 501.19,137.06" fill="#30c0d0"/>
<circle cx="503.00" cy="135.00" r="2.07" fill="#6e4c4c"/>
<rect x="505.34" y="126.20" width="3.60" height="3.60" fill="#4a4a4a"/>
<circle cx="507.14" cy="130.00" r="1.98" fill="#e8363c"/>
<polygon points="507.14,128.14 504.80,132.28 509.48,132.28" fill="#2a62cc"/>
<polygon points="507.14,133.22 504.80,129.08 509.48,129.08" fill="#2e9a68"/>
<polygon points="507.14,128.68 504.62,131.20 507.14,133.72 509.66,131.20" fill="#a070d0"/>
<polygon points="504.80,131.48 508.94,129.14 508.94,133.82" fill="#c09a20"/>
<polygon points="509.48,131.72 505.34,129.38 505.34,134.06" fill="#30c0d0"/>
<circle cx="507.14" cy="132.00" r="2.07" fill="#6e4c4c"/>
<rect x="509.49" y="121.20" width="3.60" height="3.60" fill="#4a4a4a"/>
<circle cx="511.29" cy="126.50" r="1.98" fill="#e8363c"/>
<polygon points="511.29,125.00 508.95,129.14 513.63,129.14" fill="#2a62cc"/>
<polygon points="511.29,130.38 508.95,126.24 513.63,126.24" fill="#2e9a68"/>
<polygon points="511.29,126.08 508.77,128.60 511.29,131.12 513.81,128.60" fill="#a070d0"/>
<polygon points="508.95,129.09 513.09,126.75 513.09,131.43" fill="#c09a20"/>
<polygon points="513.63,129.51 509.49,127.17 509.49,131.85" fill="#30c0d0"/>
<circle cx="511.29" cy="130.00" r="2.07" fill="#6e4c4c"/>
<rect x="304.0" y="4.5" width="215.20000000000005" height="161.9" fill="none" stroke="#4c4c4c" stroke-width="1.2"/>
<line x1="312.21" y1="166.40" x2="312.21" y2="163.90" stroke="#4c4c4c" stroke-width="1"/>
<line x1="312.21" y1="4.50" x2="312.21" y2="7.00" stroke="#4c4c4c" stroke-width="1"/>
<text x="312.21" y="177.30" font-size="10.5" text-anchor="middle" fill="#2a2a2a" font-family='"Liberation Sans", sans-serif' >-6</text>
<line x1="345.39" y1="166.40" x2="345.39" y2="163.90" stroke="#4c4c4c" stroke-width="1"/>
<line x1="345.39" y1="4.50" x2="345.39" y2="7.00" stroke="#4c4c4c" stroke-width="1"/>
<text x="345.39" y="177.30" font-size="10.5" text-anchor="middle" fill="#2a2a2a" font-family='"Liberation Sans", sans-serif' >-4</text>
<line x1="378.57" y1="166.40" x2="378.57" y2="163.90" stroke="#4c4c4c" stroke-width="1"/>
<line x1="378.57" y1="4.50" x2="378.57" y2="7.00" stroke="#4c4c4c" stroke-width="1"/>
<text x="378.57" y="177.30" font-size="10.5" text-anchor="middle" fill="#2a2a2a" font-family='"Liberation Sans", sans-serif' >-2</text>
<line x1="411.75" y1="166.40" x2="411.75" y2="163.90" stroke="#4c4c4c" stroke-width="1"/>
<line x1="411.75" y1="4.50" x2="411.75" y2="7.00" stroke="#4c4c4c" stroke-width="1"/>
<text x="411.75" y="177.30" font-size="10.5" text-anchor="middle" fill="#2a2a2a" font-family='"Liberation Sans", sans-serif' >0</text>
<line x1="444.93" y1="166.40" x2="444.93" y2="163.90" stroke="#4c4c4c" stroke-width="1"/>
<line x1="444.93" y1="4.50" x2="444.93" y2="7.00" stroke="#4c4c4c" stroke-width="1"/>
<text x="444.93" y="177.30" font-size="10.5" text-anchor="middle" fill="#2a2a2a" font-family='"Liberation Sans", sans-serif' >2</text>
<line x1="478.11" y1="166.40" x2="478.11" y2="163.90" stroke="#4c4c4c" stroke-width="1"/>
<line x1="478.11" y1="4.50" x2="478.11" y2="7.00" stroke="#4c4c4c" stroke-width="1"/>
<text x="478.11" y="177.30" font-size="10.5" text-anchor="middle" fill="#2a2a2a" font-family='"Liberation Sans", sans-serif' >4</text>
<line x1="511.29" y1="166.40" x2="511.29" y2="163.90" stroke="#4c4c4c" stroke-width="1"/>
<line x1="511.29" y1="4.50" x2="511.29" y2="7.00" stroke="#4c4c4c" stroke-width="1"/>
<text x="511.29" y="177.30" font-size="10.5" text-anchor="middle" fill="#2a2a2a" font-family='"Liberation Sans", sans-serif' >6</text>
<line x1="304.00" y1="19.81" x2="306.50" y2="19.81" stroke="#4c4c4c" stroke-width="1"/>
<line x1="519.20" y1="19.81" x2="516.70" y2="19.81" stroke="#4c4c4c" stroke-width="1"/>
<text x="301.50" y="23.51" font-size="10.5" text-anchor="end" fill="#2a2a2a" font-family='"Liberation Sans", sans-serif' >8.0</text>
<line x1="304.00" y1="52.73" x2="306.50" y2="52.73" stroke="#4c4c4c" stroke-width="1"/>
<line x1="519.20" y1="52.73" x2="516.70" y2="52.73" stroke="#4c4c4c" stroke-width="1"/>
<text x="301.50" y="56.43" font-size="10.5" text-anchor="end" fill="#2a2a2a" font-family='"Liberation Sans", sans-serif' >4.0</text>
<line x1="304.00" y1="85.65" x2="306.50" y2="85.65" stroke="#4c4c4c" stroke-width="1"/>
<line x1="519.20" y1="85.65" x2="516.70" y2="85.65" stroke="#4c4c4c" stroke-width="1"/>
<text x="301.50" y="89.35" font-size="10.5" text-anchor="end" fill="#2a2a2a" font-family='"Liberation Sans", sans-serif' >0.0</text>
<line x1="304.00" y1="118.57" x2="306.50" y2="118.57" stroke="#4c4c4c" stroke-width="1"/>
<line x1="519.20" y1="118.57" x2="516.70" y2="118.57" stroke="#4c4c4c" stroke-width="1"/>
<text x="301.50" y="122.27" font-size="10.5" text-anchor="end" fill="#2a2a2a" font-family='"Liberation Sans", sans-serif' >-4.0</text>
<line x1="304.00" y1="151.49" x2="306.50" y2="151.49" stroke="#4c4c4c" stroke-width="1"/>
<line x1="519.20" y1="151.49" x2="516.70" y2="151.49" stroke="#4c4c4c" stroke-width="1"/>
<text x="301.50" y="155.19" font-size="10.5" text-anchor="end" fill="#2a2a2a" font-family='"Liberation Sans", sans-serif' >-8.0</text>
<text x="307.00" y="22.60" font-size="14" text-anchor="start" fill="#111" font-family='"Liberation Sans", sans-serif' >(b)</text>
<text x="368.2" y="23.5" font-size="12" fill="#d43a4a" stroke="#d43a4a" stroke-width="0.3" font-family='"Liberation Sans", sans-serif'><tspan font-style="italic">p</tspan>-type</text>
<text x="481" y="25.6" font-size="12" fill="#2a30a0" stroke="#2a30a0" stroke-width="0.3" font-family='"Liberation Sans", sans-serif'><tspan font-style="italic">n</tspan>-type</text>
<text transform="translate(470.6,151.5) rotate(-90)" font-size="11" textLength="20" lengthAdjust="spacingAndGlyphs" fill="#111" font-family='"Liberation Sans", sans-serif'>CNP</text>
<text x="395.5" y="193.2" font-size="13.5" fill="#2a2a2a" font-family='"Liberation Sans", sans-serif'><tspan font-style="italic">V</tspan><tspan font-size="9" dy="3" font-style="italic">g</tspan><tspan dy="-3"> [V]</tspan></text>
<text transform="translate(278.5,129.5) rotate(-90)" font-size="13.2" fill="#2a2a2a" font-family='"Liberation Sans", sans-serif'><tspan font-style="italic">R</tspan><tspan font-size="9" dy="3" font-style="italic">H</tspan><tspan dy="-3"> [10</tspan><tspan font-size="8.5" dy="-5">4</tspan><tspan dy="5"> cm</tspan><tspan font-size="8.5" dy="-5">2</tspan><tspan dy="5">/As]</tspan></text>
<rect x="334.4" y="83.5" width="85.90000000000003" height="59.900000000000006" fill="#fff"/>
<polyline points="340,135 370,130 392,119 415,100" fill="none" stroke="#bbb" stroke-width="0.6" stroke-dasharray="1.5,1.5"/>
<circle cx="340" cy="133.8" r="1.7" fill="#808080"/>
<circle cx="347.5" cy="133.3" r="1.7" fill="#808080"/>
<circle cx="358.8" cy="131.3" r="1.7" fill="#808080"/>
<circle cx="370" cy="129.3" r="1.7" fill="#808080"/>
<circle cx="380.8" cy="123.8" r="1.7" fill="#808080"/>
<circle cx="392.5" cy="118" r="1.7" fill="#808080"/>
<circle cx="403.8" cy="110" r="1.7" fill="#808080"/>
<circle cx="415" cy="100" r="1.7" fill="#808080"/>
<circle cx="340" cy="132.8" r="1.75" fill="#e05560"/>
<circle cx="347.5" cy="132.3" r="1.75" fill="#e05560"/>
<circle cx="358.8" cy="129.5" r="1.75" fill="#e05560"/>
<circle cx="370" cy="126.3" r="1.75" fill="#e05560"/>
<circle cx="380.8" cy="118.8" r="1.75" fill="#e05560"/>
<circle cx="392.5" cy="109.5" r="1.75" fill="#e05560"/>
<circle cx="403.8" cy="98.8" r="1.75" fill="#e05560"/>
<circle cx="415" cy="89.5" r="1.75" fill="#e05560"/>
<rect x="334.4" y="83.5" width="85.90000000000003" height="59.900000000000006" fill="none" stroke="#666" stroke-width="1"/>
<line x1="420.3" y1="83.5" x2="420.3" y2="143.4" stroke="#a08088" stroke-width="1"/>
<line x1="340.00" y1="143.40" x2="340.00" y2="141.20" stroke="#666" stroke-width="1"/>
<line x1="340.00" y1="83.50" x2="340.00" y2="85.70" stroke="#666" stroke-width="1"/>
<text x="340.00" y="152.20" font-size="9.2" text-anchor="middle" fill="#222" font-family='"Liberation Sans", sans-serif' >100</text>
<line x1="377.45" y1="143.40" x2="377.45" y2="141.20" stroke="#666" stroke-width="1"/>
<line x1="377.45" y1="83.50" x2="377.45" y2="85.70" stroke="#666" stroke-width="1"/>
<text x="377.45" y="152.20" font-size="9.2" text-anchor="middle" fill="#222" font-family='"Liberation Sans", sans-serif' >200</text>
<line x1="414.90" y1="143.40" x2="414.90" y2="141.20" stroke="#666" stroke-width="1"/>
<line x1="414.90" y1="83.50" x2="414.90" y2="85.70" stroke="#666" stroke-width="1"/>
<text x="414.90" y="152.20" font-size="9.2" text-anchor="middle" fill="#222" font-family='"Liberation Sans", sans-serif' >300</text>
<line x1="334.40" y1="85.50" x2="336.40" y2="85.50" stroke="#888" stroke-width="1"/>
<line x1="420.30" y1="85.50" x2="418.30" y2="85.50" stroke="#e09090" stroke-width="1"/>
<text x="331.80" y="89.20" font-size="10.5" text-anchor="end" fill="#8a8a8a" font-family='"Liberation Sans", sans-serif' >7</text>
<text x="422.60" y="88.50" font-size="10" text-anchor="start" fill="#d06070" font-family='"Liberation Sans", sans-serif' >1.1</text>
<line x1="334.40" y1="113.20" x2="336.40" y2="113.20" stroke="#888" stroke-width="1"/>
<line x1="420.30" y1="113.20" x2="418.30" y2="113.20" stroke="#e09090" stroke-width="1"/>
<text x="331.80" y="116.90" font-size="10.5" text-anchor="end" fill="#8a8a8a" font-family='"Liberation Sans", sans-serif' >5</text>
<text x="422.60" y="116.20" font-size="10" text-anchor="start" fill="#d06070" font-family='"Liberation Sans", sans-serif' >0.9</text>
<line x1="334.40" y1="141.30" x2="336.40" y2="141.30" stroke="#888" stroke-width="1"/>
<line x1="420.30" y1="141.30" x2="418.30" y2="141.30" stroke="#e09090" stroke-width="1"/>
<text x="331.80" y="145.00" font-size="10.5" text-anchor="end" fill="#8a8a8a" font-family='"Liberation Sans", sans-serif' >3</text>
<text x="422.60" y="144.30" font-size="10" text-anchor="start" fill="#d06070" font-family='"Liberation Sans", sans-serif' >0.7</text>
<text x="341.5" y="98.0" font-size="10" fill="#111" font-family='"Liberation Sans", sans-serif'><tspan font-style="italic">V</tspan><tspan font-size="7" dy="2.5" font-style="italic">g</tspan><tspan dy="-2.5"> = 0V</tspan></text>
<text x="367.6" y="161.2" font-size="9.4" fill="#222" font-family='"Liberation Sans", sans-serif'><tspan font-style="italic">T</tspan> [K]</text>
<line x1="392.5" y1="89.5" x2="407" y2="89.5" stroke="#e03038" stroke-width="0.9"/><polygon points="411,89.5 406,87.6 406,91.4" fill="#e03038"/>
<line x1="414.5" y1="118" x2="401" y2="118" stroke="#555" stroke-width="0.75"/><polygon points="397.5,118 402.5,116.2 402.5,119.8" fill="#555"/>
<text transform="translate(320.5,154) rotate(-90)" font-size="10" fill="#9a9a9a" font-family='"Liberation Sans", sans-serif'><tspan font-style="italic">R</tspan><tspan font-size="7" dy="2" font-style="italic">H</tspan><tspan dy="-2"> [10</tspan><tspan font-size="6.5" dy="-4">4</tspan><tspan dy="4"> cm</tspan><tspan font-size="6.5" dy="-4">2</tspan><tspan dy="4">/As]</tspan></text>
<text transform="translate(447.2,132.6) rotate(-90)" font-size="10.5" fill="#d85a68" font-family='"Liberation Sans", sans-serif'><tspan font-style="italic">ρ</tspan> [kΩ/sq]</text>
<polyline points="62.00,219.40 78.60,219.00 95.20,218.30 111.80,217.50 128.40,216.50 145.00,215.60 153.30,215.00 161.60,215.00 169.90,216.50 174.05,217.80 178.20,219.60 179.55,222.00 183.70,225.50 187.85,230.50 192.00,238.00 194.49,247.00 196.48,259.00 197.81,272.00 203.10,341.00 207.19,272.00 208.52,255.00 209.35,249.00 211.01,244.50 211.40,238.70 213.89,233.20 217.21,228.70 220.53,225.70 223.85,223.70 228.00,222.20 232.15,221.20 236.30,220.70 240.45,220.50 244.60,220.70" fill="none" stroke="#907070" stroke-width="0.9" stroke-opacity="1.0"/>
<polyline points="62.00,219.40 78.60,219.00 95.20,218.30 111.80,217.50 128.40,216.50 145.00,215.60 153.30,215.00 161.60,215.00 169.90,216.50 174.05,217.80 178.20,219.60 180.35,222.00 184.50,225.50 188.65,230.50 192.80,238.00 195.29,247.00 197.28,259.00 198.61,272.00 203.10,327.00 206.59,272.00 207.92,255.00 208.75,249.00 210.41,244.50 211.40,239.50 213.89,234.00 217.21,229.50 220.53,226.50 223.85,224.50 228.00,223.00 232.15,222.00 236.30,221.50 240.45,221.30 244.60,221.50" fill="none" stroke="#60d0e0" stroke-width="0.9" stroke-opacity="1.0"/>
<polyline points="62.00,219.40 78.60,219.00 95.20,218.30 111.80,217.50 128.40,216.50 145.00,215.60 153.30,215.00 161.60,215.00 169.90,216.50 174.05,217.80 178.20,219.60 181.15,222.00 185.30,225.50 189.45,230.50 193.60,238.00 196.09,247.00 198.08,259.00 199.41,272.00 203.10,356.00 205.99,272.00 207.32,255.00 208.15,249.00 209.81,244.50 211.40,239.50 213.89,234.00 217.21,229.50 220.53,226.50 223.85,224.50 228.00,223.00 232.15,222.00 236.30,221.50 240.45,221.30 244.60,221.50" fill="none" stroke="#d0b050" stroke-width="0.9" stroke-opacity="1.0"/>
<polyline points="62.00,219.40 78.60,219.00 95.20,218.30 111.80,217.50 128.40,216.50 145.00,215.60 153.30,215.00 161.60,215.00 169.90,216.50 174.05,217.80 178.20,219.60 181.95,222.00 186.10,225.50 190.25,230.50 194.40,238.00 196.89,247.00 198.88,259.00 200.21,272.00 203.10,314.00 205.39,272.00 206.72,255.00 207.55,249.00 209.21,244.50 211.40,239.50 213.89,234.00 217.21,229.50 220.53,226.50 223.85,224.50 228.00,223.00 232.15,222.00 236.30,221.50 240.45,221.30 244.60,221.50" fill="none" stroke="#b890e0" stroke-width="0.9" stroke-opacity="1.0"/>
<polyline points="62.00,219.40 78.60,219.00 95.20,218.30 111.80,217.50 128.40,216.50 145.00,215.60 153.30,215.00 161.60,215.00 169.90,216.50 174.05,217.80 178.20,219.60 182.75,222.00 186.90,225.50 191.05,230.50 195.20,238.00 197.69,247.00 199.68,259.00 201.01,272.00 203.10,294.00 204.79,272.00 206.12,255.00 206.95,249.00 208.61,244.50 211.40,239.50 213.89,234.00 217.21,229.50 220.53,226.50 223.85,224.50 228.00,223.00 232.15,222.00 236.30,221.50 240.45,221.30 244.60,221.50" fill="none" stroke="#60b090" stroke-width="0.9" stroke-opacity="1.0"/>
<polyline points="62.00,219.40 78.60,219.00 95.20,218.30 111.80,217.50 128.40,216.50 145.00,215.60 153.30,215.00 161.60,215.00 169.90,216.50 174.05,217.80 178.20,219.60 183.55,222.00 187.70,225.50 191.85,230.50 196.00,238.00 198.49,247.00 200.48,259.00 201.81,272.00 203.10,277.00 204.19,272.00 205.52,255.00 206.35,249.00 208.01,244.50 211.40,239.50 213.89,234.00 217.21,229.50 220.53,226.50 223.85,224.50 228.00,223.00 232.15,222.00 236.30,221.50 240.45,221.30 244.60,221.50" fill="none" stroke="#6090e0" stroke-width="0.9" stroke-opacity="1.0"/>
<polyline points="62.00,219.40 78.60,219.00 95.20,218.30 111.80,217.50 128.40,216.50 145.00,215.60 153.30,215.00 161.60,215.00 169.90,216.50 174.05,217.80 178.20,219.60 184.35,222.00 188.50,225.50 192.65,230.50 196.80,238.00 199.29,247.00 201.28,259.00 202.61,272.00 203.10,286.00 203.59,272.00 204.92,255.00 205.75,249.00 207.41,244.50 211.40,238.70 213.89,233.20 217.21,228.70 220.53,225.70 223.85,223.70 228.00,222.20 232.15,221.20 236.30,220.70 240.45,220.50 244.60,220.70" fill="none" stroke="#f07070" stroke-width="0.9" stroke-opacity="1.0"/>
<polyline points="62.00,219.40 78.60,219.00 95.20,218.30 111.80,217.50 128.40,216.50 145.00,215.60 153.30,215.00 161.60,215.00 169.90,216.50 174.05,217.80 178.20,219.60 185.15,222.00 189.30,225.50 193.45,230.50 197.60,238.00 200.09,247.00 202.08,259.00 203.41,272.00 203.10,276.00 205.09,280.00 206.42,265.00 207.25,259.00 208.91,252.00 211.40,246.00 213.89,241.50 217.21,237.50 220.53,233.50 223.85,230.50 228.00,228.50 232.15,227.00 236.30,226.00 240.45,225.00 244.60,224.30" fill="none" stroke="#6a6a6a" stroke-width="0.9" stroke-opacity="1.0"/>
<circle cx="62.00" cy="219.40" r="2.76" fill="#6e5c62"/>
<circle cx="78.60" cy="219.00" r="2.76" fill="#6e5c62"/>
<circle cx="95.20" cy="218.30" r="2.76" fill="#6e5c62"/>
<circle cx="111.80" cy="217.50" r="2.76" fill="#6e5c62"/>
<circle cx="128.40" cy="216.50" r="2.76" fill="#6e5c62"/>
<circle cx="145.00" cy="215.60" r="2.76" fill="#6e5c62"/>
<circle cx="153.30" cy="215.00" r="2.76" fill="#6e5c62"/>
<circle cx="161.60" cy="215.00" r="2.76" fill="#6e5c62"/>
<circle cx="169.90" cy="216.50" r="2.76" fill="#6e5c62"/>
<circle cx="174.05" cy="217.80" r="2.76" fill="#6e5c62"/>
<circle cx="178.20" cy="219.60" r="2.76" fill="#6e5c62"/>
<rect x="183.15" y="220.00" width="4.00" height="4.00" fill="#4a4a4a"/>
<circle cx="184.35" cy="222.00" r="2.20" fill="#e8363c"/>
<polygon points="183.55,219.40 180.95,224.00 186.15,224.00" fill="#2a62cc"/>
<polygon points="182.75,224.60 180.15,220.00 185.35,220.00" fill="#2e9a68"/>
<polygon points="181.95,219.20 179.15,222.00 181.95,224.80 184.75,222.00" fill="#a070d0"/>
<polygon points="178.55,222.00 183.15,219.40 183.15,224.60" fill="#c09a20"/>
<polygon points="182.95,222.00 178.35,219.40 178.35,224.60" fill="#30c0d0"/>
<circle cx="179.55" cy="222.00" r="2.30" fill="#6e4c4c"/>
<rect x="187.30" y="223.50" width="4.00" height="4.00" fill="#4a4a4a"/>
<circle cx="188.50" cy="225.50" r="2.20" fill="#e8363c"/>
<polygon points="187.70,222.90 185.10,227.50 190.30,227.50" fill="#2a62cc"/>
<polygon points="186.90,228.10 184.30,223.50 189.50,223.50" fill="#2e9a68"/>
<polygon points="186.10,222.70 183.30,225.50 186.10,228.30 188.90,225.50" fill="#a070d0"/>
<polygon points="182.70,225.50 187.30,222.90 187.30,228.10" fill="#c09a20"/>
<polygon points="187.10,225.50 182.50,222.90 182.50,228.10" fill="#30c0d0"/>
<circle cx="183.70" cy="225.50" r="2.30" fill="#6e4c4c"/>
<rect x="191.45" y="228.50" width="4.00" height="4.00" fill="#4a4a4a"/>
<circle cx="192.65" cy="230.50" r="2.20" fill="#e8363c"/>
<polygon points="191.85,227.90 189.25,232.50 194.45,232.50" fill="#2a62cc"/>
<polygon points="191.05,233.10 188.45,228.50 193.65,228.50" fill="#2e9a68"/>
<polygon points="190.25,227.70 187.45,230.50 190.25,233.30 193.05,230.50" fill="#a070d0"/>
<polygon points="186.85,230.50 191.45,227.90 191.45,233.10" fill="#c09a20"/>
<polygon points="191.25,230.50 186.65,227.90 186.65,233.10" fill="#30c0d0"/>
<circle cx="187.85" cy="230.50" r="2.30" fill="#6e4c4c"/>
<rect x="195.60" y="236.00" width="4.00" height="4.00" fill="#4a4a4a"/>
<circle cx="196.80" cy="238.00" r="2.20" fill="#e8363c"/>
<polygon points="196.00,235.40 193.40,240.00 198.60,240.00" fill="#2a62cc"/>
<polygon points="195.20,240.60 192.60,236.00 197.80,236.00" fill="#2e9a68"/>
<polygon points="194.40,235.20 191.60,238.00 194.40,240.80 197.20,238.00" fill="#a070d0"/>
<polygon points="191.00,238.00 195.60,235.40 195.60,240.60" fill="#c09a20"/>
<polygon points="195.40,238.00 190.80,235.40 190.80,240.60" fill="#30c0d0"/>
<circle cx="192.00" cy="238.00" r="2.30" fill="#6e4c4c"/>
<rect x="198.09" y="245.00" width="4.00" height="4.00" fill="#4a4a4a"/>
<circle cx="199.29" cy="247.00" r="2.20" fill="#e8363c"/>
<polygon points="198.49,244.40 195.89,249.00 201.09,249.00" fill="#2a62cc"/>
<polygon points="197.69,249.60 195.09,245.00 200.29,245.00" fill="#2e9a68"/>
<polygon points="196.89,244.20 194.09,247.00 196.89,249.80 199.69,247.00" fill="#a070d0"/>
<polygon points="193.49,247.00 198.09,244.40 198.09,249.60" fill="#c09a20"/>
<polygon points="197.89,247.00 193.29,244.40 193.29,249.60" fill="#30c0d0"/>
<circle cx="194.49" cy="247.00" r="2.30" fill="#6e4c4c"/>
<rect x="200.08" y="257.00" width="4.00" height="4.00" fill="#4a4a4a"/>
<circle cx="201.28" cy="259.00" r="2.20" fill="#e8363c"/>
<polygon points="200.48,256.40 197.88,261.00 203.08,261.00" fill="#2a62cc"/>
<polygon points="199.68,261.60 197.08,257.00 202.28,257.00" fill="#2e9a68"/>
<polygon points="198.88,256.20 196.08,259.00 198.88,261.80 201.68,259.00" fill="#a070d0"/>
<polygon points="195.48,259.00 200.08,256.40 200.08,261.60" fill="#c09a20"/>
<polygon points="199.88,259.00 195.28,256.40 195.28,261.60" fill="#30c0d0"/>
<circle cx="196.48" cy="259.00" r="2.30" fill="#6e4c4c"/>
<rect x="201.41" y="270.00" width="4.00" height="4.00" fill="#4a4a4a"/>
<circle cx="202.61" cy="272.00" r="2.20" fill="#e8363c"/>
<polygon points="201.81,269.40 199.21,274.00 204.41,274.00" fill="#2a62cc"/>
<polygon points="201.01,274.60 198.41,270.00 203.61,270.00" fill="#2e9a68"/>
<polygon points="200.21,269.20 197.41,272.00 200.21,274.80 203.01,272.00" fill="#a070d0"/>
<polygon points="196.81,272.00 201.41,269.40 201.41,274.60" fill="#c09a20"/>
<polygon points="201.21,272.00 196.61,269.40 196.61,274.60" fill="#30c0d0"/>
<circle cx="197.81" cy="272.00" r="2.30" fill="#6e4c4c"/>
<rect x="201.10" y="274.00" width="4.00" height="4.00" fill="#4a4a4a"/>
<circle cx="203.10" cy="286.00" r="2.20" fill="#e8363c"/>
<polygon points="203.10,274.40 200.50,279.00 205.70,279.00" fill="#2a62cc"/>
<polygon points="203.10,296.60 200.50,292.00 205.70,292.00" fill="#2e9a68"/>
<polygon points="203.10,311.20 200.30,314.00 203.10,316.80 205.90,314.00" fill="#a070d0"/>
<polygon points="200.50,356.00 205.10,353.40 205.10,358.60" fill="#c09a20"/>
<polygon points="205.70,327.00 201.10,324.40 201.10,329.60" fill="#30c0d0"/>
<circle cx="203.10" cy="341.00" r="2.30" fill="#6e4c4c"/>
<rect x="203.09" y="278.00" width="4.00" height="4.00" fill="#4a4a4a"/>
<circle cx="203.59" cy="272.00" r="2.20" fill="#e8363c"/>
<polygon points="204.19,269.40 201.59,274.00 206.79,274.00" fill="#2a62cc"/>
<polygon points="204.79,274.60 202.19,270.00 207.39,270.00" fill="#2e9a68"/>
<polygon points="205.39,269.20 202.59,272.00 205.39,274.80 208.19,272.00" fill="#a070d0"/>
<polygon points="203.39,272.00 207.99,269.40 207.99,274.60" fill="#c09a20"/>
<polygon points="209.19,272.00 204.59,269.40 204.59,274.60" fill="#30c0d0"/>
<circle cx="207.19" cy="272.00" r="2.30" fill="#6e4c4c"/>
<rect x="204.42" y="263.00" width="4.00" height="4.00" fill="#4a4a4a"/>
<circle cx="204.92" cy="255.00" r="2.20" fill="#e8363c"/>
<polygon points="205.52,252.40 202.92,257.00 208.12,257.00" fill="#2a62cc"/>
<polygon points="206.12,257.60 203.52,253.00 208.72,253.00" fill="#2e9a68"/>
<polygon points="206.72,252.20 203.92,255.00 206.72,257.80 209.52,255.00" fill="#a070d0"/>
<polygon points="204.72,255.00 209.32,252.40 209.32,257.60" fill="#c09a20"/>
<polygon points="210.52,255.00 205.92,252.40 205.92,257.60" fill="#30c0d0"/>
<circle cx="208.52" cy="255.00" r="2.30" fill="#6e4c4c"/>
<rect x="205.25" y="257.00" width="4.00" height="4.00" fill="#4a4a4a"/>
<circle cx="205.75" cy="249.00" r="2.20" fill="#e8363c"/>
<polygon points="206.35,246.40 203.75,251.00 208.95,251.00" fill="#2a62cc"/>
<polygon points="206.95,251.60 204.35,247.00 209.55,247.00" fill="#2e9a68"/>
<polygon points="207.55,246.20 204.75,249.00 207.55,251.80 210.35,249.00" fill="#a070d0"/>
<polygon points="205.55,249.00 210.15,246.40 210.15,251.60" fill="#c09a20"/>
<polygon points="211.35,249.00 206.75,246.40 206.75,251.60" fill="#30c0d0"/>
<circle cx="209.35" cy="249.00" r="2.30" fill="#6e4c4c"/>
<rect x="206.91" y="250.00" width="4.00" height="4.00" fill="#4a4a4a"/>
<circle cx="207.41" cy="244.50" r="2.20" fill="#e8363c"/>
<polygon points="208.01,241.90 205.41,246.50 210.61,246.50" fill="#2a62cc"/>
<polygon points="208.61,247.10 206.01,242.50 211.21,242.50" fill="#2e9a68"/>
<polygon points="209.21,241.70 206.41,244.50 209.21,247.30 212.01,244.50" fill="#a070d0"/>
<polygon points="207.21,244.50 211.81,241.90 211.81,247.10" fill="#c09a20"/>
<polygon points="213.01,244.50 208.41,241.90 208.41,247.10" fill="#30c0d0"/>
<circle cx="211.01" cy="244.50" r="2.30" fill="#6e4c4c"/>
<rect x="209.40" y="244.00" width="4.00" height="4.00" fill="#4a4a4a"/>
<circle cx="211.40" cy="238.70" r="2.20" fill="#e8363c"/>
<polygon points="211.40,236.90 208.80,241.50 214.00,241.50" fill="#2a62cc"/>
<polygon points="211.40,242.10 208.80,237.50 214.00,237.50" fill="#2e9a68"/>
<polygon points="211.40,236.70 208.60,239.50 211.40,242.30 214.20,239.50" fill="#a070d0"/>
<polygon points="208.80,239.50 213.40,236.90 213.40,242.10" fill="#c09a20"/>
<polygon points="214.00,239.50 209.40,236.90 209.40,242.10" fill="#30c0d0"/>
<circle cx="211.40" cy="238.70" r="2.30" fill="#6e4c4c"/>
<rect x="211.89" y="239.50" width="4.00" height="4.00" fill="#4a4a4a"/>
<circle cx="213.89" cy="233.20" r="2.20" fill="#e8363c"/>
<polygon points="213.89,231.40 211.29,236.00 216.49,236.00" fill="#2a62cc"/>
<polygon points="213.89,236.60 211.29,232.00 216.49,232.00" fill="#2e9a68"/>
<polygon points="213.89,231.20 211.09,234.00 213.89,236.80 216.69,234.00" fill="#a070d0"/>
<polygon points="211.29,234.00 215.89,231.40 215.89,236.60" fill="#c09a20"/>
<polygon points="216.49,234.00 211.89,231.40 211.89,236.60" fill="#30c0d0"/>
<circle cx="213.89" cy="233.20" r="2.30" fill="#6e4c4c"/>
<rect x="215.21" y="235.50" width="4.00" height="4.00" fill="#4a4a4a"/>
<circle cx="217.21" cy="228.70" r="2.20" fill="#e8363c"/>
<polygon points="217.21,226.90 214.61,231.50 219.81,231.50" fill="#2a62cc"/>
<polygon points="217.21,232.10 214.61,227.50 219.81,227.50" fill="#2e9a68"/>
<polygon points="217.21,226.70 214.41,229.50 217.21,232.30 220.01,229.50" fill="#a070d0"/>
<polygon points="214.61,229.50 219.21,226.90 219.21,232.10" fill="#c09a20"/>
<polygon points="219.81,229.50 215.21,226.90 215.21,232.10" fill="#30c0d0"/>
<circle cx="217.21" cy="228.70" r="2.30" fill="#6e4c4c"/>
<rect x="218.53" y="231.50" width="4.00" height="4.00" fill="#4a4a4a"/>
<circle cx="220.53" cy="225.70" r="2.20" fill="#e8363c"/>
<polygon points="220.53,223.90 217.93,228.50 223.13,228.50" fill="#2a62cc"/>
<polygon points="220.53,229.10 217.93,224.50 223.13,224.50" fill="#2e9a68"/>
<polygon points="220.53,223.70 217.73,226.50 220.53,229.30 223.33,226.50" fill="#a070d0"/>
<polygon points="217.93,226.50 222.53,223.90 222.53,229.10" fill="#c09a20"/>
<polygon points="223.13,226.50 218.53,223.90 218.53,229.10" fill="#30c0d0"/>
<circle cx="220.53" cy="225.70" r="2.30" fill="#6e4c4c"/>
<rect x="221.85" y="228.50" width="4.00" height="4.00" fill="#4a4a4a"/>
<circle cx="223.85" cy="223.70" r="2.20" fill="#e8363c"/>
<polygon points="223.85,221.90 221.25,226.50 226.45,226.50" fill="#2a62cc"/>
<polygon points="223.85,227.10 221.25,222.50 226.45,222.50" fill="#2e9a68"/>
<polygon points="223.85,221.70 221.05,224.50 223.85,227.30 226.65,224.50" fill="#a070d0"/>
<polygon points="221.25,224.50 225.85,221.90 225.85,227.10" fill="#c09a20"/>
<polygon points="226.45,224.50 221.85,221.90 221.85,227.10" fill="#30c0d0"/>
<circle cx="223.85" cy="223.70" r="2.30" fill="#6e4c4c"/>
<rect x="226.00" y="226.50" width="4.00" height="4.00" fill="#4a4a4a"/>
<circle cx="228.00" cy="222.20" r="2.20" fill="#e8363c"/>
<polygon points="228.00,220.40 225.40,225.00 230.60,225.00" fill="#2a62cc"/>
<polygon points="228.00,225.60 225.40,221.00 230.60,221.00" fill="#2e9a68"/>
<polygon points="228.00,220.20 225.20,223.00 228.00,225.80 230.80,223.00" fill="#a070d0"/>
<polygon points="225.40,223.00 230.00,220.40 230.00,225.60" fill="#c09a20"/>
<polygon points="230.60,223.00 226.00,220.40 226.00,225.60" fill="#30c0d0"/>
<circle cx="228.00" cy="222.20" r="2.30" fill="#6e4c4c"/>
<rect x="230.15" y="225.00" width="4.00" height="4.00" fill="#4a4a4a"/>
<circle cx="232.15" cy="221.20" r="2.20" fill="#e8363c"/>
<polygon points="232.15,219.40 229.55,224.00 234.75,224.00" fill="#2a62cc"/>
<polygon points="232.15,224.60 229.55,220.00 234.75,220.00" fill="#2e9a68"/>
<polygon points="232.15,219.20 229.35,222.00 232.15,224.80 234.95,222.00" fill="#a070d0"/>
<polygon points="229.55,222.00 234.15,219.40 234.15,224.60" fill="#c09a20"/>
<polygon points="234.75,222.00 230.15,219.40 230.15,224.60" fill="#30c0d0"/>
<circle cx="232.15" cy="221.20" r="2.30" fill="#6e4c4c"/>
<rect x="234.30" y="224.00" width="4.00" height="4.00" fill="#4a4a4a"/>
<circle cx="236.30" cy="220.70" r="2.20" fill="#e8363c"/>
<polygon points="236.30,218.90 233.70,223.50 238.90,223.50" fill="#2a62cc"/>
<polygon points="236.30,224.10 233.70,219.50 238.90,219.50" fill="#2e9a68"/>
<polygon points="236.30,218.70 233.50,221.50 236.30,224.30 239.10,221.50" fill="#a070d0"/>
<polygon points="233.70,221.50 238.30,218.90 238.30,224.10" fill="#c09a20"/>
<polygon points="238.90,221.50 234.30,218.90 234.30,224.10" fill="#30c0d0"/>
<circle cx="236.30" cy="220.70" r="2.30" fill="#6e4c4c"/>
<rect x="238.45" y="223.00" width="4.00" height="4.00" fill="#4a4a4a"/>
<circle cx="240.45" cy="220.50" r="2.20" fill="#e8363c"/>
<polygon points="240.45,218.70 237.85,223.30 243.05,223.30" fill="#2a62cc"/>
<polygon points="240.45,223.90 237.85,219.30 243.05,219.30" fill="#2e9a68"/>
<polygon points="240.45,218.50 237.65,221.30 240.45,224.10 243.25,221.30" fill="#a070d0"/>
<polygon points="237.85,221.30 242.45,218.70 242.45,223.90" fill="#c09a20"/>
<polygon points="243.05,221.30 238.45,218.70 238.45,223.90" fill="#30c0d0"/>
<circle cx="240.45" cy="220.50" r="2.30" fill="#6e4c4c"/>
<rect x="242.60" y="222.30" width="4.00" height="4.00" fill="#4a4a4a"/>
<circle cx="244.60" cy="220.70" r="2.20" fill="#e8363c"/>
<polygon points="244.60,218.90 242.00,223.50 247.20,223.50" fill="#2a62cc"/>
<polygon points="244.60,224.10 242.00,219.50 247.20,219.50" fill="#2e9a68"/>
<polygon points="244.60,218.70 241.80,221.50 244.60,224.30 247.40,221.50" fill="#a070d0"/>
<polygon points="242.00,221.50 246.60,218.90 246.60,224.10" fill="#c09a20"/>
<polygon points="247.20,221.50 242.60,218.90 242.60,224.10" fill="#30c0d0"/>
<circle cx="244.60" cy="220.70" r="2.30" fill="#6e4c4c"/>
<rect x="37.3" y="206.1" width="215.7" height="161.79999999999998" fill="none" stroke="#4c4c4c" stroke-width="1.2"/>
<line x1="45.40" y1="367.90" x2="45.40" y2="365.40" stroke="#4c4c4c" stroke-width="1"/>
<line x1="45.40" y1="206.10" x2="45.40" y2="208.60" stroke="#4c4c4c" stroke-width="1"/>
<text x="45.40" y="379.00" font-size="10.5" text-anchor="middle" fill="#2a2a2a" font-family='"Liberation Sans", sans-serif' >-6</text>
<line x1="78.60" y1="367.90" x2="78.60" y2="365.40" stroke="#4c4c4c" stroke-width="1"/>
<line x1="78.60" y1="206.10" x2="78.60" y2="208.60" stroke="#4c4c4c" stroke-width="1"/>
<text x="78.60" y="379.00" font-size="10.5" text-anchor="middle" fill="#2a2a2a" font-family='"Liberation Sans", sans-serif' >-4</text>
<line x1="111.80" y1="367.90" x2="111.80" y2="365.40" stroke="#4c4c4c" stroke-width="1"/>
<line x1="111.80" y1="206.10" x2="111.80" y2="208.60" stroke="#4c4c4c" stroke-width="1"/>
<text x="111.80" y="379.00" font-size="10.5" text-anchor="middle" fill="#2a2a2a" font-family='"Liberation Sans", sans-serif' >-2</text>
<line x1="145.00" y1="367.90" x2="145.00" y2="365.40" stroke="#4c4c4c" stroke-width="1"/>
<line x1="145.00" y1="206.10" x2="145.00" y2="208.60" stroke="#4c4c4c" stroke-width="1"/>
<text x="145.00" y="379.00" font-size="10.5" text-anchor="middle" fill="#2a2a2a" font-family='"Liberation Sans", sans-serif' >0</text>
<line x1="178.20" y1="367.90" x2="178.20" y2="365.40" stroke="#4c4c4c" stroke-width="1"/>
<line x1="178.20" y1="206.10" x2="178.20" y2="208.60" stroke="#4c4c4c" stroke-width="1"/>
<text x="178.20" y="379.00" font-size="10.5" text-anchor="middle" fill="#2a2a2a" font-family='"Liberation Sans", sans-serif' >2</text>
<line x1="211.40" y1="367.90" x2="211.40" y2="365.40" stroke="#4c4c4c" stroke-width="1"/>
<line x1="211.40" y1="206.10" x2="211.40" y2="208.60" stroke="#4c4c4c" stroke-width="1"/>
<text x="211.40" y="379.00" font-size="10.5" text-anchor="middle" fill="#2a2a2a" font-family='"Liberation Sans", sans-serif' >4</text>
<line x1="244.60" y1="367.90" x2="244.60" y2="365.40" stroke="#4c4c4c" stroke-width="1"/>
<line x1="244.60" y1="206.10" x2="244.60" y2="208.60" stroke="#4c4c4c" stroke-width="1"/>
<text x="244.60" y="379.00" font-size="10.5" text-anchor="middle" fill="#2a2a2a" font-family='"Liberation Sans", sans-serif' >6</text>
<line x1="37.30" y1="360.53" x2="39.10" y2="360.53" stroke="#4c4c4c" stroke-width="1"/>
<line x1="253.00" y1="360.53" x2="251.20" y2="360.53" stroke="#4c4c4c" stroke-width="1"/>
<line x1="37.30" y1="354.34" x2="39.10" y2="354.34" stroke="#4c4c4c" stroke-width="1"/>
<line x1="253.00" y1="354.34" x2="251.20" y2="354.34" stroke="#4c4c4c" stroke-width="1"/>
<line x1="37.30" y1="349.53" x2="39.10" y2="349.53" stroke="#4c4c4c" stroke-width="1"/>
<line x1="253.00" y1="349.53" x2="251.20" y2="349.53" stroke="#4c4c4c" stroke-width="1"/>
<line x1="37.30" y1="345.60" x2="39.10" y2="345.60" stroke="#4c4c4c" stroke-width="1"/>
<line x1="253.00" y1="345.60" x2="251.20" y2="345.60" stroke="#4c4c4c" stroke-width="1"/>
<line x1="37.30" y1="342.28" x2="39.10" y2="342.28" stroke="#4c4c4c" stroke-width="1"/>
<line x1="253.00" y1="342.28" x2="251.20" y2="342.28" stroke="#4c4c4c" stroke-width="1"/>
<line x1="37.30" y1="339.41" x2="39.10" y2="339.41" stroke="#4c4c4c" stroke-width="1"/>
<line x1="253.00" y1="339.41" x2="251.20" y2="339.41" stroke="#4c4c4c" stroke-width="1"/>
<line x1="37.30" y1="336.87" x2="39.10" y2="336.87" stroke="#4c4c4c" stroke-width="1"/>
<line x1="253.00" y1="336.87" x2="251.20" y2="336.87" stroke="#4c4c4c" stroke-width="1"/>
<line x1="37.30" y1="334.60" x2="40.50" y2="334.60" stroke="#4c4c4c" stroke-width="1"/>
<line x1="253.00" y1="334.60" x2="249.80" y2="334.60" stroke="#4c4c4c" stroke-width="1"/>
<line x1="37.30" y1="319.67" x2="39.10" y2="319.67" stroke="#4c4c4c" stroke-width="1"/>
<line x1="253.00" y1="319.67" x2="251.20" y2="319.67" stroke="#4c4c4c" stroke-width="1"/>
<line x1="37.30" y1="310.93" x2="39.10" y2="310.93" stroke="#4c4c4c" stroke-width="1"/>
<line x1="253.00" y1="310.93" x2="251.20" y2="310.93" stroke="#4c4c4c" stroke-width="1"/>
<line x1="37.30" y1="304.74" x2="39.10" y2="304.74" stroke="#4c4c4c" stroke-width="1"/>
<line x1="253.00" y1="304.74" x2="251.20" y2="304.74" stroke="#4c4c4c" stroke-width="1"/>
<line x1="37.30" y1="299.93" x2="39.10" y2="299.93" stroke="#4c4c4c" stroke-width="1"/>
<line x1="253.00" y1="299.93" x2="251.20" y2="299.93" stroke="#4c4c4c" stroke-width="1"/>
<line x1="37.30" y1="296.00" x2="39.10" y2="296.00" stroke="#4c4c4c" stroke-width="1"/>
<line x1="253.00" y1="296.00" x2="251.20" y2="296.00" stroke="#4c4c4c" stroke-width="1"/>
<line x1="37.30" y1="292.68" x2="39.10" y2="292.68" stroke="#4c4c4c" stroke-width="1"/>
<line x1="253.00" y1="292.68" x2="251.20" y2="292.68" stroke="#4c4c4c" stroke-width="1"/>
<line x1="37.30" y1="289.81" x2="39.10" y2="289.81" stroke="#4c4c4c" stroke-width="1"/>
<line x1="253.00" y1="289.81" x2="251.20" y2="289.81" stroke="#4c4c4c" stroke-width="1"/>
<line x1="37.30" y1="287.27" x2="39.10" y2="287.27" stroke="#4c4c4c" stroke-width="1"/>
<line x1="253.00" y1="287.27" x2="251.20" y2="287.27" stroke="#4c4c4c" stroke-width="1"/>
<line x1="37.30" y1="285.00" x2="40.50" y2="285.00" stroke="#4c4c4c" stroke-width="1"/>
<line x1="253.00" y1="285.00" x2="249.80" y2="285.00" stroke="#4c4c4c" stroke-width="1"/>
<line x1="37.30" y1="270.07" x2="39.10" y2="270.07" stroke="#4c4c4c" stroke-width="1"/>
<line x1="253.00" y1="270.07" x2="251.20" y2="270.07" stroke="#4c4c4c" stroke-width="1"/>
<line x1="37.30" y1="261.33" x2="39.10" y2="261.33" stroke="#4c4c4c" stroke-width="1"/>
<line x1="253.00" y1="261.33" x2="251.20" y2="261.33" stroke="#4c4c4c" stroke-width="1"/>
<line x1="37.30" y1="255.14" x2="39.10" y2="255.14" stroke="#4c4c4c" stroke-width="1"/>
<line x1="253.00" y1="255.14" x2="251.20" y2="255.14" stroke="#4c4c4c" stroke-width="1"/>
<line x1="37.30" y1="250.33" x2="39.10" y2="250.33" stroke="#4c4c4c" stroke-width="1"/>
<line x1="253.00" y1="250.33" x2="251.20" y2="250.33" stroke="#4c4c4c" stroke-width="1"/>
<line x1="37.30" y1="246.40" x2="39.10" y2="246.40" stroke="#4c4c4c" stroke-width="1"/>
<line x1="253.00" y1="246.40" x2="251.20" y2="246.40" stroke="#4c4c4c" stroke-width="1"/>
<line x1="37.30" y1="243.08" x2="39.10" y2="243.08" stroke="#4c4c4c" stroke-width="1"/>
<line x1="253.00" y1="243.08" x2="251.20" y2="243.08" stroke="#4c4c4c" stroke-width="1"/>
<line x1="37.30" y1="240.21" x2="39.10" y2="240.21" stroke="#4c4c4c" stroke-width="1"/>
<line x1="253.00" y1="240.21" x2="251.20" y2="240.21" stroke="#4c4c4c" stroke-width="1"/>
<line x1="37.30" y1="237.67" x2="39.10" y2="237.67" stroke="#4c4c4c" stroke-width="1"/>
<line x1="253.00" y1="237.67" x2="251.20" y2="237.67" stroke="#4c4c4c" stroke-width="1"/>
<line x1="37.30" y1="235.40" x2="40.50" y2="235.40" stroke="#4c4c4c" stroke-width="1"/>
<line x1="253.00" y1="235.40" x2="249.80" y2="235.40" stroke="#4c4c4c" stroke-width="1"/>
<line x1="37.30" y1="220.47" x2="39.10" y2="220.47" stroke="#4c4c4c" stroke-width="1"/>
<line x1="253.00" y1="220.47" x2="251.20" y2="220.47" stroke="#4c4c4c" stroke-width="1"/>
<line x1="37.30" y1="211.73" x2="39.10" y2="211.73" stroke="#4c4c4c" stroke-width="1"/>
<line x1="253.00" y1="211.73" x2="251.20" y2="211.73" stroke="#4c4c4c" stroke-width="1"/>
<text x="34.2" y="338.40" font-size="10.5" text-anchor="end" fill="#2a2a2a" font-family='"Liberation Sans", sans-serif'>10<tspan font-size="7" dy="-4.5">1</tspan></text>
<text x="34.2" y="288.80" font-size="10.5" text-anchor="end" fill="#2a2a2a" font-family='"Liberation Sans", sans-serif'>10<tspan font-size="7" dy="-4.5">2</tspan></text>
<text x="34.2" y="239.20" font-size="10.5" text-anchor="end" fill="#2a2a2a" font-family='"Liberation Sans", sans-serif'>10<tspan font-size="7" dy="-4.5">3</tspan></text>
<text x="41.00" y="225.30" font-size="14" text-anchor="start" fill="#111" font-family='"Liberation Sans", sans-serif' >(c)</text>
<text x="115.6" y="238.0" font-size="12" fill="#d43a4a" stroke="#d43a4a" stroke-width="0.3" font-family='"Liberation Sans", sans-serif'><tspan font-style="italic">p</tspan>-type</text>
<text x="213.4" y="268.5" font-size="12" fill="#2a30a0" stroke="#2a30a0" stroke-width="0.3" font-family='"Liberation Sans", sans-serif'><tspan font-style="italic">n</tspan>-type</text>
<text x="129" y="396.4" font-size="13.5" fill="#2a2a2a" font-family='"Liberation Sans", sans-serif'><tspan font-style="italic">V</tspan><tspan font-size="9" dy="3" font-style="italic">g</tspan><tspan dy="-3"> [V]</tspan></text>
<text transform="translate(13.2,330.5) rotate(-90)" font-size="14" fill="#2a2a2a" font-family='"Liberation Sans", sans-serif'><tspan font-style="italic">μ</tspan><tspan font-size="9" dy="3" font-style="italic">H</tspan><tspan dy="-3"> [cm</tspan><tspan font-size="8.5" dy="-5">2</tspan><tspan dy="5"> V</tspan><tspan font-size="8.5" dy="-5">-1</tspan><tspan dy="5"> s</tspan><tspan font-size="8.5" dy="-5">-1</tspan><tspan dy="5">]</tspan></text>
<rect x="75.2" y="263.3" width="107.10000000000001" height="75.80000000000001" fill="#fff"/>
<circle cx="83.30" cy="296.00" r="2.4" fill="#3a78d0" stroke="#3a3a3a" stroke-opacity="0.45" stroke-width="0.5"/>
<circle cx="82.46" cy="295.16" r="0.96" fill="#ffffff" fill-opacity="0.35"/>
<circle cx="92.40" cy="295.20" r="2.4" fill="#3a78d0" stroke="#3a3a3a" stroke-opacity="0.45" stroke-width="0.5"/>
<circle cx="91.56" cy="294.36" r="0.96" fill="#ffffff" fill-opacity="0.35"/>
<circle cx="106.00" cy="293.30" r="2.4" fill="#3a78d0" stroke="#3a3a3a" stroke-opacity="0.45" stroke-width="0.5"/>
<circle cx="105.16" cy="292.46" r="0.96" fill="#ffffff" fill-opacity="0.35"/>
<circle cx="119.30" cy="292.00" r="2.4" fill="#3a78d0" stroke="#3a3a3a" stroke-opacity="0.45" stroke-width="0.5"/>
<circle cx="118.46" cy="291.16" r="0.96" fill="#ffffff" fill-opacity="0.35"/>
<circle cx="132.70" cy="290.20" r="2.4" fill="#3a78d0" stroke="#3a3a3a" stroke-opacity="0.45" stroke-width="0.5"/>
<circle cx="131.86" cy="289.36" r="0.96" fill="#ffffff" fill-opacity="0.35"/>
<circle cx="146.60" cy="286.30" r="2.4" fill="#3a78d0" stroke="#3a3a3a" stroke-opacity="0.45" stroke-width="0.5"/>
<circle cx="145.76" cy="285.46" r="0.96" fill="#ffffff" fill-opacity="0.35"/>
<circle cx="159.80" cy="282.20" r="2.4" fill="#3a78d0" stroke="#3a3a3a" stroke-opacity="0.45" stroke-width="0.5"/>
<circle cx="158.96" cy="281.36" r="0.96" fill="#ffffff" fill-opacity="0.35"/>
<circle cx="172.90" cy="274.00" r="2.4" fill="#3a78d0" stroke="#3a3a3a" stroke-opacity="0.45" stroke-width="0.5"/>
<circle cx="172.06" cy="273.16" r="0.96" fill="#ffffff" fill-opacity="0.35"/>
<circle cx="83.30" cy="300.70" r="2.4" fill="#e04048" stroke="#3a3a3a" stroke-opacity="0.45" stroke-width="0.5"/>
<circle cx="82.46" cy="299.86" r="0.96" fill="#ffffff" fill-opacity="0.35"/>
<circle cx="92.40" cy="300.70" r="2.4" fill="#e04048" stroke="#3a3a3a" stroke-opacity="0.45" stroke-width="0.5"/>
<circle cx="91.56" cy="299.86" r="0.96" fill="#ffffff" fill-opacity="0.35"/>
<circle cx="106.00" cy="299.80" r="2.4" fill="#e04048" stroke="#3a3a3a" stroke-opacity="0.45" stroke-width="0.5"/>
<circle cx="105.16" cy="298.96" r="0.96" fill="#ffffff" fill-opacity="0.35"/>
<circle cx="119.30" cy="298.90" r="2.4" fill="#e04048" stroke="#3a3a3a" stroke-opacity="0.45" stroke-width="0.5"/>
<circle cx="118.46" cy="298.06" r="0.96" fill="#ffffff" fill-opacity="0.35"/>
<circle cx="132.70" cy="298.60" r="2.4" fill="#e04048" stroke="#3a3a3a" stroke-opacity="0.45" stroke-width="0.5"/>
<circle cx="131.86" cy="297.76" r="0.96" fill="#ffffff" fill-opacity="0.35"/>
<circle cx="146.60" cy="297.90" r="2.4" fill="#e04048" stroke="#3a3a3a" stroke-opacity="0.45" stroke-width="0.5"/>
<circle cx="145.76" cy="297.06" r="0.96" fill="#ffffff" fill-opacity="0.35"/>
<circle cx="159.80" cy="296.40" r="2.4" fill="#e04048" stroke="#3a3a3a" stroke-opacity="0.45" stroke-width="0.5"/>
<circle cx="158.96" cy="295.56" r="0.96" fill="#ffffff" fill-opacity="0.35"/>
<circle cx="172.90" cy="293.70" r="2.4" fill="#e04048" stroke="#3a3a3a" stroke-opacity="0.45" stroke-width="0.5"/>
<circle cx="172.06" cy="292.86" r="0.96" fill="#ffffff" fill-opacity="0.35"/>
<circle cx="83.30" cy="316.30" r="2.4" fill="#555" stroke="#3a3a3a" stroke-opacity="0.45" stroke-width="0.5"/>
<circle cx="82.46" cy="315.46" r="0.96" fill="#ffffff" fill-opacity="0.35"/>
<circle cx="92.40" cy="315.80" r="2.4" fill="#555" stroke="#3a3a3a" stroke-opacity="0.45" stroke-width="0.5"/>
<circle cx="91.56" cy="314.96" r="0.96" fill="#ffffff" fill-opacity="0.35"/>
<circle cx="106.00" cy="314.60" r="2.4" fill="#555" stroke="#3a3a3a" stroke-opacity="0.45" stroke-width="0.5"/>
<circle cx="105.16" cy="313.76" r="0.96" fill="#ffffff" fill-opacity="0.35"/>
<circle cx="119.30" cy="312.80" r="2.4" fill="#555" stroke="#3a3a3a" stroke-opacity="0.45" stroke-width="0.5"/>
<circle cx="118.46" cy="311.96" r="0.96" fill="#ffffff" fill-opacity="0.35"/>
<circle cx="132.70" cy="312.20" r="2.4" fill="#555" stroke="#3a3a3a" stroke-opacity="0.45" stroke-width="0.5"/>
<circle cx="131.86" cy="311.36" r="0.96" fill="#ffffff" fill-opacity="0.35"/>
<circle cx="146.60" cy="311.50" r="2.4" fill="#555" stroke="#3a3a3a" stroke-opacity="0.45" stroke-width="0.5"/>
<circle cx="145.76" cy="310.66" r="0.96" fill="#ffffff" fill-opacity="0.35"/>
<circle cx="159.80" cy="314.80" r="2.4" fill="#555" stroke="#3a3a3a" stroke-opacity="0.45" stroke-width="0.5"/>
<circle cx="158.96" cy="313.96" r="0.96" fill="#ffffff" fill-opacity="0.35"/>
<circle cx="172.90" cy="330.60" r="2.4" fill="#555" stroke="#3a3a3a" stroke-opacity="0.45" stroke-width="0.5"/>
<circle cx="172.06" cy="329.76" r="0.96" fill="#ffffff" fill-opacity="0.35"/>
<ellipse cx="106.7" cy="296.7" rx="3.9" ry="10.6" fill="none" stroke="#222" stroke-width="0.7"/>
<rect x="75.2" y="263.3" width="107.10000000000001" height="75.80000000000001" fill="none" stroke="#666" stroke-width="1"/>
<line x1="83.20" y1="339.10" x2="83.20" y2="336.90" stroke="#666" stroke-width="1"/>
<line x1="83.20" y1="263.30" x2="83.20" y2="265.50" stroke="#666" stroke-width="1"/>
<text x="83.20" y="349.20" font-size="10" text-anchor="middle" fill="#222" font-family='"Liberation Sans", sans-serif' >100</text>
<line x1="128.30" y1="339.10" x2="128.30" y2="336.90" stroke="#666" stroke-width="1"/>
<line x1="128.30" y1="263.30" x2="128.30" y2="265.50" stroke="#666" stroke-width="1"/>
<text x="128.30" y="349.20" font-size="10" text-anchor="middle" fill="#222" font-family='"Liberation Sans", sans-serif' >200</text>
<line x1="173.40" y1="339.10" x2="173.40" y2="336.90" stroke="#666" stroke-width="1"/>
<line x1="173.40" y1="263.30" x2="173.40" y2="265.50" stroke="#666" stroke-width="1"/>
<text x="173.40" y="349.20" font-size="10" text-anchor="middle" fill="#222" font-family='"Liberation Sans", sans-serif' >300</text>
<line x1="75.20" y1="339.10" x2="77.20" y2="339.10" stroke="#666" stroke-width="1"/>
<line x1="182.30" y1="339.10" x2="180.30" y2="339.10" stroke="#666" stroke-width="1"/>
<text x="72.80" y="342.70" font-size="10" text-anchor="end" fill="#222" font-family='"Liberation Sans", sans-serif' >1.5</text>
<line x1="75.20" y1="313.84" x2="77.20" y2="313.84" stroke="#666" stroke-width="1"/>
<line x1="182.30" y1="313.84" x2="180.30" y2="313.84" stroke="#666" stroke-width="1"/>
<text x="72.80" y="317.44" font-size="10" text-anchor="end" fill="#222" font-family='"Liberation Sans", sans-serif' >2.0</text>
<line x1="75.20" y1="288.57" x2="77.20" y2="288.57" stroke="#666" stroke-width="1"/>
<line x1="182.30" y1="288.57" x2="180.30" y2="288.57" stroke="#666" stroke-width="1"/>
<text x="72.80" y="292.17" font-size="10" text-anchor="end" fill="#222" font-family='"Liberation Sans", sans-serif' >2.5</text>
<line x1="75.20" y1="263.31" x2="77.20" y2="263.31" stroke="#666" stroke-width="1"/>
<line x1="182.30" y1="263.31" x2="180.30" y2="263.31" stroke="#666" stroke-width="1"/>
<text x="72.80" y="266.91" font-size="10" text-anchor="end" fill="#222" font-family='"Liberation Sans", sans-serif' >3.0</text>
<text x="80.60" y="286.50" font-size="9.3" text-anchor="start" fill="#222" font-family='"Liberation Sans", sans-serif' >holes</text>
<text x="96.70" y="329.00" font-size="9.1" text-anchor="start" fill="#222" font-family='"Liberation Sans", sans-serif' >electrons</text>
<text x="148.30" y="278.20" font-size="10" text-anchor="start" fill="#222" font-family='"Liberation Sans", sans-serif' >(0V)</text>
<text x="157.00" y="306.90" font-size="10" text-anchor="start" fill="#222" font-family='"Liberation Sans", sans-serif' >(-5V)</text>
<text x="150.20" y="334.20" font-size="10" text-anchor="start" fill="#222" font-family='"Liberation Sans", sans-serif' >(6V)</text>
<text x="117.8" y="358.6" font-size="10.2" fill="#222" font-family='"Liberation Sans", sans-serif'><tspan font-style="italic">T</tspan> [K]</text>
<text transform="translate(54,344) rotate(-90)" font-size="9.6" fill="#333" font-family='"Liberation Sans", sans-serif'>|<tspan font-style="italic">μ</tspan><tspan font-size="6.5" dy="2" font-style="italic">H</tspan><tspan dy="-2">| [10</tspan><tspan font-size="6.5" dy="-4">3</tspan><tspan dy="4"> cm</tspan><tspan font-size="6.5" dy="-4">2</tspan><tspan dy="4"> V</tspan><tspan font-size="6.5" dy="-4">-1</tspan><tspan dy="4"> s</tspan><tspan font-size="6.5" dy="-4">-1</tspan><tspan dy="4">]</tspan></text>
<line x1="411.6" y1="214" x2="411.6" y2="359" stroke="#a4a4a4" stroke-width="1.25"/>
<polygon points="411.6,211.8 409.3,216.2 413.9,216.2" fill="#888"/>
<polygon points="411.6,361.2 409.3,356.8 413.9,356.8" fill="#888"/>
<polyline points="436.20,240.20 441.80,240.80 447.40,241.40 454.00,242.50 461.40,243.60 472.00,246.00 484.00,249.00 495.00,252.00 504.00,254.00 509.40,255.00" fill="none" stroke="#906860" stroke-width="0.9" stroke-opacity="1.0"/>
<polyline points="435.00,236.50 440.00,238.00 446.00,239.50 452.00,241.00 460.00,243.00 471.00,245.50 483.00,248.50 494.00,251.50 503.00,253.50 509.40,255.00" fill="none" stroke="#60d0d8" stroke-width="0.9" stroke-opacity="1.0"/>
<polyline points="434.50,238.00 439.50,239.00 445.00,240.00 451.00,241.00 459.00,242.50 470.00,245.00 482.00,248.00 493.00,251.00 503.00,253.00 509.40,254.50" fill="none" stroke="#d0b060" stroke-width="0.9" stroke-opacity="1.0"/>
<polyline points="433.00,235.00 438.00,236.50 443.00,238.00 449.00,239.50 457.00,241.50 468.00,244.00 480.00,247.50 492.00,250.50 502.00,253.00 509.40,254.50" fill="none" stroke="#b090e0" stroke-width="0.9" stroke-opacity="1.0"/>
<polyline points="431.20,231.30 436.00,232.50 441.00,234.50 447.00,236.50 455.00,239.00 466.00,242.50 478.00,246.50 490.00,250.00 501.00,252.50 509.40,254.50" fill="none" stroke="#70b088" stroke-width="0.9" stroke-opacity="1.0"/>
<polyline points="429.50,227.90 434.00,229.00 438.50,231.30 444.00,233.50 452.00,236.50 465.00,241.00 478.00,246.00 490.00,249.50 501.00,252.00 509.40,254.00" fill="none" stroke="#6a8ad8" stroke-width="0.9" stroke-opacity="1.0"/>
<polyline points="428.00,222.90 431.20,224.60 436.20,226.30 450.80,233.50 464.70,238.60 478.00,244.00 490.00,248.50 501.00,251.00 509.40,254.00" fill="none" stroke="#e06060" stroke-width="0.9" stroke-opacity="1.0"/>
<polyline points="428.90,214.80 433.40,217.90 448.50,227.40 464.20,235.20 477.70,241.20 489.20,246.00 500.80,248.80 509.40,253.50" fill="none" stroke="#333333" stroke-width="0.9" stroke-opacity="1.0"/>
<circle cx="428.90" cy="214.80" r="2.5" fill="#1a1a1a" stroke="#3a3a3a" stroke-opacity="0.45" stroke-width="0.5"/>
<circle cx="428.02" cy="213.93" r="1.00" fill="#ffffff" fill-opacity="0.35"/>
<circle cx="433.40" cy="217.90" r="2.5" fill="#1a1a1a" stroke="#3a3a3a" stroke-opacity="0.45" stroke-width="0.5"/>
<circle cx="432.52" cy="217.03" r="1.00" fill="#ffffff" fill-opacity="0.35"/>
<circle cx="448.50" cy="227.40" r="2.5" fill="#1a1a1a" stroke="#3a3a3a" stroke-opacity="0.45" stroke-width="0.5"/>
<circle cx="447.62" cy="226.53" r="1.00" fill="#ffffff" fill-opacity="0.35"/>
<circle cx="464.20" cy="235.20" r="2.5" fill="#1a1a1a" stroke="#3a3a3a" stroke-opacity="0.45" stroke-width="0.5"/>
<circle cx="463.32" cy="234.32" r="1.00" fill="#ffffff" fill-opacity="0.35"/>
<circle cx="477.70" cy="241.20" r="2.5" fill="#1a1a1a" stroke="#3a3a3a" stroke-opacity="0.45" stroke-width="0.5"/>
<circle cx="476.82" cy="240.32" r="1.00" fill="#ffffff" fill-opacity="0.35"/>
<circle cx="489.20" cy="246.00" r="2.5" fill="#1a1a1a" stroke="#3a3a3a" stroke-opacity="0.45" stroke-width="0.5"/>
<circle cx="488.32" cy="245.12" r="1.00" fill="#ffffff" fill-opacity="0.35"/>
<circle cx="500.80" cy="248.80" r="2.5" fill="#1a1a1a" stroke="#3a3a3a" stroke-opacity="0.45" stroke-width="0.5"/>
<circle cx="499.93" cy="247.93" r="1.00" fill="#ffffff" fill-opacity="0.35"/>
<circle cx="428.00" cy="222.90" r="2.5" fill="#e02828" stroke="#3a3a3a" stroke-opacity="0.45" stroke-width="0.5"/>
<circle cx="427.12" cy="222.03" r="1.00" fill="#ffffff" fill-opacity="0.35"/>
<circle cx="431.20" cy="224.60" r="2.5" fill="#e02828" stroke="#3a3a3a" stroke-opacity="0.45" stroke-width="0.5"/>
<circle cx="430.32" cy="223.72" r="1.00" fill="#ffffff" fill-opacity="0.35"/>
<circle cx="436.20" cy="226.30" r="2.5" fill="#e02828" stroke="#3a3a3a" stroke-opacity="0.45" stroke-width="0.5"/>
<circle cx="435.32" cy="225.43" r="1.00" fill="#ffffff" fill-opacity="0.35"/>
<circle cx="450.80" cy="233.50" r="2.5" fill="#e02828" stroke="#3a3a3a" stroke-opacity="0.45" stroke-width="0.5"/>
<circle cx="449.93" cy="232.62" r="1.00" fill="#ffffff" fill-opacity="0.35"/>
<circle cx="464.70" cy="238.60" r="2.5" fill="#e02828" stroke="#3a3a3a" stroke-opacity="0.45" stroke-width="0.5"/>
<circle cx="463.82" cy="237.72" r="1.00" fill="#ffffff" fill-opacity="0.35"/>
<circle cx="478.00" cy="244.00" r="2.5" fill="#e02828" stroke="#3a3a3a" stroke-opacity="0.45" stroke-width="0.5"/>
<circle cx="477.12" cy="243.12" r="1.00" fill="#ffffff" fill-opacity="0.35"/>
<circle cx="490.00" cy="248.50" r="2.5" fill="#e02828" stroke="#3a3a3a" stroke-opacity="0.45" stroke-width="0.5"/>
<circle cx="489.12" cy="247.62" r="1.00" fill="#ffffff" fill-opacity="0.35"/>
<circle cx="501.00" cy="251.00" r="2.5" fill="#e02828" stroke="#3a3a3a" stroke-opacity="0.45" stroke-width="0.5"/>
<circle cx="500.12" cy="250.12" r="1.00" fill="#ffffff" fill-opacity="0.35"/>
<circle cx="429.50" cy="227.90" r="2.5" fill="#3a78d0" stroke="#3a3a3a" stroke-opacity="0.45" stroke-width="0.5"/>
<circle cx="428.62" cy="227.03" r="1.00" fill="#ffffff" fill-opacity="0.35"/>
<circle cx="434.00" cy="229.00" r="2.5" fill="#3a78d0" stroke="#3a3a3a" stroke-opacity="0.45" stroke-width="0.5"/>
<circle cx="433.12" cy="228.12" r="1.00" fill="#ffffff" fill-opacity="0.35"/>
<circle cx="438.50" cy="231.30" r="2.5" fill="#3a78d0" stroke="#3a3a3a" stroke-opacity="0.45" stroke-width="0.5"/>
<circle cx="437.62" cy="230.43" r="1.00" fill="#ffffff" fill-opacity="0.35"/>
<circle cx="444.00" cy="233.50" r="2.5" fill="#3a78d0" stroke="#3a3a3a" stroke-opacity="0.45" stroke-width="0.5"/>
<circle cx="443.12" cy="232.62" r="1.00" fill="#ffffff" fill-opacity="0.35"/>
<circle cx="452.00" cy="236.50" r="2.5" fill="#3a78d0" stroke="#3a3a3a" stroke-opacity="0.45" stroke-width="0.5"/>
<circle cx="451.12" cy="235.62" r="1.00" fill="#ffffff" fill-opacity="0.35"/>
<circle cx="465.00" cy="241.00" r="2.5" fill="#3a78d0" stroke="#3a3a3a" stroke-opacity="0.45" stroke-width="0.5"/>
<circle cx="464.12" cy="240.12" r="1.00" fill="#ffffff" fill-opacity="0.35"/>
<circle cx="478.00" cy="246.00" r="2.5" fill="#3a78d0" stroke="#3a3a3a" stroke-opacity="0.45" stroke-width="0.5"/>
<circle cx="477.12" cy="245.12" r="1.00" fill="#ffffff" fill-opacity="0.35"/>
<circle cx="490.00" cy="249.50" r="2.5" fill="#3a78d0" stroke="#3a3a3a" stroke-opacity="0.45" stroke-width="0.5"/>
<circle cx="489.12" cy="248.62" r="1.00" fill="#ffffff" fill-opacity="0.35"/>
<circle cx="501.00" cy="252.00" r="2.5" fill="#3a78d0" stroke="#3a3a3a" stroke-opacity="0.45" stroke-width="0.5"/>
<circle cx="500.12" cy="251.12" r="1.00" fill="#ffffff" fill-opacity="0.35"/>
<circle cx="431.20" cy="231.30" r="2.5" fill="#70a888" stroke="#3a3a3a" stroke-opacity="0.45" stroke-width="0.5"/>
<circle cx="430.32" cy="230.43" r="1.00" fill="#ffffff" fill-opacity="0.35"/>
<circle cx="436.00" cy="232.50" r="2.5" fill="#70a888" stroke="#3a3a3a" stroke-opacity="0.45" stroke-width="0.5"/>
<circle cx="435.12" cy="231.62" r="1.00" fill="#ffffff" fill-opacity="0.35"/>
<circle cx="441.00" cy="234.50" r="2.5" fill="#70a888" stroke="#3a3a3a" stroke-opacity="0.45" stroke-width="0.5"/>
<circle cx="440.12" cy="233.62" r="1.00" fill="#ffffff" fill-opacity="0.35"/>
<circle cx="447.00" cy="236.50" r="2.5" fill="#70a888" stroke="#3a3a3a" stroke-opacity="0.45" stroke-width="0.5"/>
<circle cx="446.12" cy="235.62" r="1.00" fill="#ffffff" fill-opacity="0.35"/>
<circle cx="455.00" cy="239.00" r="2.5" fill="#70a888" stroke="#3a3a3a" stroke-opacity="0.45" stroke-width="0.5"/>
<circle cx="454.12" cy="238.12" r="1.00" fill="#ffffff" fill-opacity="0.35"/>
<circle cx="466.00" cy="242.50" r="2.5" fill="#70a888" stroke="#3a3a3a" stroke-opacity="0.45" stroke-width="0.5"/>
<circle cx="465.12" cy="241.62" r="1.00" fill="#ffffff" fill-opacity="0.35"/>
<circle cx="478.00" cy="246.50" r="2.5" fill="#70a888" stroke="#3a3a3a" stroke-opacity="0.45" stroke-width="0.5"/>
<circle cx="477.12" cy="245.62" r="1.00" fill="#ffffff" fill-opacity="0.35"/>
<circle cx="490.00" cy="250.00" r="2.5" fill="#70a888" stroke="#3a3a3a" stroke-opacity="0.45" stroke-width="0.5"/>
<circle cx="489.12" cy="249.12" r="1.00" fill="#ffffff" fill-opacity="0.35"/>
<circle cx="501.00" cy="252.50" r="2.5" fill="#70a888" stroke="#3a3a3a" stroke-opacity="0.45" stroke-width="0.5"/>
<circle cx="500.12" cy="251.62" r="1.00" fill="#ffffff" fill-opacity="0.35"/>
<circle cx="433.00" cy="235.00" r="2.5" fill="#a898c8" stroke="#3a3a3a" stroke-opacity="0.45" stroke-width="0.5"/>
<circle cx="432.12" cy="234.12" r="1.00" fill="#ffffff" fill-opacity="0.35"/>
<circle cx="438.00" cy="236.50" r="2.5" fill="#a898c8" stroke="#3a3a3a" stroke-opacity="0.45" stroke-width="0.5"/>
<circle cx="437.12" cy="235.62" r="1.00" fill="#ffffff" fill-opacity="0.35"/>
<circle cx="443.00" cy="238.00" r="2.5" fill="#a898c8" stroke="#3a3a3a" stroke-opacity="0.45" stroke-width="0.5"/>
<circle cx="442.12" cy="237.12" r="1.00" fill="#ffffff" fill-opacity="0.35"/>
<circle cx="449.00" cy="239.50" r="2.5" fill="#a898c8" stroke="#3a3a3a" stroke-opacity="0.45" stroke-width="0.5"/>
<circle cx="448.12" cy="238.62" r="1.00" fill="#ffffff" fill-opacity="0.35"/>
<circle cx="457.00" cy="241.50" r="2.5" fill="#a898c8" stroke="#3a3a3a" stroke-opacity="0.45" stroke-width="0.5"/>
<circle cx="456.12" cy="240.62" r="1.00" fill="#ffffff" fill-opacity="0.35"/>
<circle cx="468.00" cy="244.00" r="2.5" fill="#a898c8" stroke="#3a3a3a" stroke-opacity="0.45" stroke-width="0.5"/>
<circle cx="467.12" cy="243.12" r="1.00" fill="#ffffff" fill-opacity="0.35"/>
<circle cx="480.00" cy="247.50" r="2.5" fill="#a898c8" stroke="#3a3a3a" stroke-opacity="0.45" stroke-width="0.5"/>
<circle cx="479.12" cy="246.62" r="1.00" fill="#ffffff" fill-opacity="0.35"/>
<circle cx="492.00" cy="250.50" r="2.5" fill="#a898c8" stroke="#3a3a3a" stroke-opacity="0.45" stroke-width="0.5"/>
<circle cx="491.12" cy="249.62" r="1.00" fill="#ffffff" fill-opacity="0.35"/>
<circle cx="502.00" cy="253.00" r="2.5" fill="#a898c8" stroke="#3a3a3a" stroke-opacity="0.45" stroke-width="0.5"/>
<circle cx="501.12" cy="252.12" r="1.00" fill="#ffffff" fill-opacity="0.35"/>
<circle cx="434.50" cy="238.00" r="2.5" fill="#b8a878" stroke="#3a3a3a" stroke-opacity="0.45" stroke-width="0.5"/>
<circle cx="433.62" cy="237.12" r="1.00" fill="#ffffff" fill-opacity="0.35"/>
<circle cx="439.50" cy="239.00" r="2.5" fill="#b8a878" stroke="#3a3a3a" stroke-opacity="0.45" stroke-width="0.5"/>
<circle cx="438.62" cy="238.12" r="1.00" fill="#ffffff" fill-opacity="0.35"/>
<circle cx="445.00" cy="240.00" r="2.5" fill="#b8a878" stroke="#3a3a3a" stroke-opacity="0.45" stroke-width="0.5"/>
<circle cx="444.12" cy="239.12" r="1.00" fill="#ffffff" fill-opacity="0.35"/>
<circle cx="451.00" cy="241.00" r="2.5" fill="#b8a878" stroke="#3a3a3a" stroke-opacity="0.45" stroke-width="0.5"/>
<circle cx="450.12" cy="240.12" r="1.00" fill="#ffffff" fill-opacity="0.35"/>
<circle cx="459.00" cy="242.50" r="2.5" fill="#b8a878" stroke="#3a3a3a" stroke-opacity="0.45" stroke-width="0.5"/>
<circle cx="458.12" cy="241.62" r="1.00" fill="#ffffff" fill-opacity="0.35"/>
<circle cx="470.00" cy="245.00" r="2.5" fill="#b8a878" stroke="#3a3a3a" stroke-opacity="0.45" stroke-width="0.5"/>
<circle cx="469.12" cy="244.12" r="1.00" fill="#ffffff" fill-opacity="0.35"/>
<circle cx="482.00" cy="248.00" r="2.5" fill="#b8a878" stroke="#3a3a3a" stroke-opacity="0.45" stroke-width="0.5"/>
<circle cx="481.12" cy="247.12" r="1.00" fill="#ffffff" fill-opacity="0.35"/>
<circle cx="493.00" cy="251.00" r="2.5" fill="#b8a878" stroke="#3a3a3a" stroke-opacity="0.45" stroke-width="0.5"/>
<circle cx="492.12" cy="250.12" r="1.00" fill="#ffffff" fill-opacity="0.35"/>
<circle cx="503.00" cy="253.00" r="2.5" fill="#b8a878" stroke="#3a3a3a" stroke-opacity="0.45" stroke-width="0.5"/>
<circle cx="502.12" cy="252.12" r="1.00" fill="#ffffff" fill-opacity="0.35"/>
<circle cx="435.00" cy="236.50" r="2.5" fill="#60b8c0" stroke="#3a3a3a" stroke-opacity="0.45" stroke-width="0.5"/>
<circle cx="434.12" cy="235.62" r="1.00" fill="#ffffff" fill-opacity="0.35"/>
<circle cx="440.00" cy="238.00" r="2.5" fill="#60b8c0" stroke="#3a3a3a" stroke-opacity="0.45" stroke-width="0.5"/>
<circle cx="439.12" cy="237.12" r="1.00" fill="#ffffff" fill-opacity="0.35"/>
<circle cx="446.00" cy="239.50" r="2.5" fill="#60b8c0" stroke="#3a3a3a" stroke-opacity="0.45" stroke-width="0.5"/>
<circle cx="445.12" cy="238.62" r="1.00" fill="#ffffff" fill-opacity="0.35"/>
<circle cx="452.00" cy="241.00" r="2.5" fill="#60b8c0" stroke="#3a3a3a" stroke-opacity="0.45" stroke-width="0.5"/>
<circle cx="451.12" cy="240.12" r="1.00" fill="#ffffff" fill-opacity="0.35"/>
<circle cx="460.00" cy="243.00" r="2.5" fill="#60b8c0" stroke="#3a3a3a" stroke-opacity="0.45" stroke-width="0.5"/>
<circle cx="459.12" cy="242.12" r="1.00" fill="#ffffff" fill-opacity="0.35"/>
<circle cx="471.00" cy="245.50" r="2.5" fill="#60b8c0" stroke="#3a3a3a" stroke-opacity="0.45" stroke-width="0.5"/>
<circle cx="470.12" cy="244.62" r="1.00" fill="#ffffff" fill-opacity="0.35"/>
<circle cx="483.00" cy="248.50" r="2.5" fill="#60b8c0" stroke="#3a3a3a" stroke-opacity="0.45" stroke-width="0.5"/>
<circle cx="482.12" cy="247.62" r="1.00" fill="#ffffff" fill-opacity="0.35"/>
<circle cx="494.00" cy="251.50" r="2.5" fill="#60b8c0" stroke="#3a3a3a" stroke-opacity="0.45" stroke-width="0.5"/>
<circle cx="493.12" cy="250.62" r="1.00" fill="#ffffff" fill-opacity="0.35"/>
<circle cx="503.00" cy="253.50" r="2.5" fill="#60b8c0" stroke="#3a3a3a" stroke-opacity="0.45" stroke-width="0.5"/>
<circle cx="502.12" cy="252.62" r="1.00" fill="#ffffff" fill-opacity="0.35"/>
<circle cx="436.20" cy="240.20" r="2.5" fill="#9a8a80" stroke="#3a3a3a" stroke-opacity="0.45" stroke-width="0.5"/>
<circle cx="435.32" cy="239.32" r="1.00" fill="#ffffff" fill-opacity="0.35"/>
<circle cx="441.80" cy="240.80" r="2.5" fill="#9a8a80" stroke="#3a3a3a" stroke-opacity="0.45" stroke-width="0.5"/>
<circle cx="440.93" cy="239.93" r="1.00" fill="#ffffff" fill-opacity="0.35"/>
<circle cx="447.40" cy="241.40" r="2.5" fill="#9a8a80" stroke="#3a3a3a" stroke-opacity="0.45" stroke-width="0.5"/>
<circle cx="446.52" cy="240.53" r="1.00" fill="#ffffff" fill-opacity="0.35"/>
<circle cx="454.00" cy="242.50" r="2.5" fill="#9a8a80" stroke="#3a3a3a" stroke-opacity="0.45" stroke-width="0.5"/>
<circle cx="453.12" cy="241.62" r="1.00" fill="#ffffff" fill-opacity="0.35"/>
<circle cx="461.40" cy="243.60" r="2.5" fill="#9a8a80" stroke="#3a3a3a" stroke-opacity="0.45" stroke-width="0.5"/>
<circle cx="460.52" cy="242.72" r="1.00" fill="#ffffff" fill-opacity="0.35"/>
<circle cx="472.00" cy="246.00" r="2.5" fill="#9a8a80" stroke="#3a3a3a" stroke-opacity="0.45" stroke-width="0.5"/>
<circle cx="471.12" cy="245.12" r="1.00" fill="#ffffff" fill-opacity="0.35"/>
<circle cx="484.00" cy="249.00" r="2.5" fill="#9a8a80" stroke="#3a3a3a" stroke-opacity="0.45" stroke-width="0.5"/>
<circle cx="483.12" cy="248.12" r="1.00" fill="#ffffff" fill-opacity="0.35"/>
<circle cx="495.00" cy="252.00" r="2.5" fill="#9a8a80" stroke="#3a3a3a" stroke-opacity="0.45" stroke-width="0.5"/>
<circle cx="494.12" cy="251.12" r="1.00" fill="#ffffff" fill-opacity="0.35"/>
<circle cx="504.00" cy="254.00" r="2.5" fill="#9a8a80" stroke="#3a3a3a" stroke-opacity="0.45" stroke-width="0.5"/>
<circle cx="503.12" cy="253.12" r="1.00" fill="#ffffff" fill-opacity="0.35"/>
<circle cx="509.40" cy="255.00" r="2.5" fill="#9a8a80" stroke="#3a3a3a" stroke-opacity="0.45" stroke-width="0.5"/>
<circle cx="508.52" cy="254.12" r="1.00" fill="#ffffff" fill-opacity="0.35"/>
<polyline points="325.90,350.80 366.50,335.30 380.00,321.80 384.50,308.40 387.00,299.30 389.30,290.00 391.00,281.50 392.50,272.00 393.00,257.00" fill="none" stroke="#444" stroke-width="0.9" stroke-opacity="1.0"/>
<polyline points="345.48,347.70 356.48,343.20 366.98,336.50 380.48,323.00 384.98,309.60 387.48,300.50 389.78,291.20 391.48,282.70 392.98,273.20 393.48,258.20" fill="none" stroke="#b090e0" stroke-width="0.8" stroke-opacity="1.0"/>
<polyline points="345.32,347.30 356.32,342.80 366.82,336.10 380.32,322.60 384.82,309.20 387.32,300.10 389.62,290.80 391.32,282.30 392.82,272.80 393.32,257.80" fill="none" stroke="#d0b060" stroke-width="0.8" stroke-opacity="1.0"/>
<polyline points="344.76,345.90 355.76,341.40 366.26,334.70 379.76,321.20 384.26,307.80 386.76,298.70 389.06,289.40 390.76,280.90 392.26,271.40 392.76,256.40" fill="none" stroke="#6a8ad8" stroke-width="0.8" stroke-opacity="1.0"/>
<polyline points="344.88,346.20 355.88,341.70 366.38,335.00 379.88,321.50 384.38,308.10 386.88,299.00 389.18,289.70 390.88,281.20 392.38,271.70 392.88,256.70" fill="none" stroke="#e06060" stroke-width="0.8" stroke-opacity="1.0"/>
<polyline points="345.16,346.90 356.16,342.40 366.66,335.70 380.16,322.20 384.66,308.80 387.16,299.70 389.46,290.40 391.16,281.90 392.66,272.40 393.16,257.40" fill="none" stroke="#906860" stroke-width="0.8" stroke-opacity="1.0"/>
<circle cx="345.50" cy="346.50" r="2.3" fill="#a888d8" stroke="#3a3a3a" stroke-opacity="0.45" stroke-width="0.5"/>
<circle cx="344.69" cy="345.69" r="0.92" fill="#ffffff" fill-opacity="0.35"/>
<circle cx="348.50" cy="345.30" r="2.3" fill="#c8b050" stroke="#3a3a3a" stroke-opacity="0.45" stroke-width="0.5"/>
<circle cx="347.69" cy="344.50" r="0.92" fill="#ffffff" fill-opacity="0.35"/>
<circle cx="351.50" cy="344.00" r="2.3" fill="#8a6a60" stroke="#3a3a3a" stroke-opacity="0.45" stroke-width="0.5"/>
<circle cx="350.69" cy="343.19" r="0.92" fill="#ffffff" fill-opacity="0.35"/>
<circle cx="356.00" cy="342.00" r="2.3" fill="#e02828" stroke="#3a3a3a" stroke-opacity="0.45" stroke-width="0.5"/>
<circle cx="355.19" cy="341.19" r="0.92" fill="#ffffff" fill-opacity="0.35"/>
<circle cx="360.50" cy="339.80" r="2.3" fill="#3a6ad0" stroke="#3a3a3a" stroke-opacity="0.45" stroke-width="0.5"/>
<circle cx="359.69" cy="339.00" r="0.92" fill="#ffffff" fill-opacity="0.35"/>
<circle cx="363.80" cy="338.20" r="2.3" fill="#e02828" stroke="#3a3a3a" stroke-opacity="0.45" stroke-width="0.5"/>
<circle cx="363.00" cy="337.39" r="0.92" fill="#ffffff" fill-opacity="0.35"/>
<circle cx="379.50" cy="322.00" r="2.3" fill="#8a6a60" stroke="#3a3a3a" stroke-opacity="0.45" stroke-width="0.5"/>
<circle cx="378.69" cy="321.19" r="0.92" fill="#ffffff" fill-opacity="0.35"/>
<circle cx="384.20" cy="308.80" r="2.3" fill="#8a6a60" stroke="#3a3a3a" stroke-opacity="0.45" stroke-width="0.5"/>
<circle cx="383.39" cy="308.00" r="0.92" fill="#ffffff" fill-opacity="0.35"/>
<circle cx="386.50" cy="300.50" r="2.3" fill="#e02828" stroke="#3a3a3a" stroke-opacity="0.45" stroke-width="0.5"/>
<circle cx="385.69" cy="299.69" r="0.92" fill="#ffffff" fill-opacity="0.35"/>
<circle cx="388.20" cy="295.00" r="2.3" fill="#1a1a1a" stroke="#3a3a3a" stroke-opacity="0.45" stroke-width="0.5"/>
<circle cx="387.39" cy="294.19" r="0.92" fill="#ffffff" fill-opacity="0.35"/>
<circle cx="389.30" cy="289.50" r="2.3" fill="#8a6a60" stroke="#3a3a3a" stroke-opacity="0.45" stroke-width="0.5"/>
<circle cx="388.50" cy="288.69" r="0.92" fill="#ffffff" fill-opacity="0.35"/>
<circle cx="390.50" cy="284.00" r="2.3" fill="#1a1a1a" stroke="#3a3a3a" stroke-opacity="0.45" stroke-width="0.5"/>
<circle cx="389.69" cy="283.19" r="0.92" fill="#ffffff" fill-opacity="0.35"/>
<circle cx="391.50" cy="279.00" r="2.3" fill="#3a6ad0" stroke="#3a3a3a" stroke-opacity="0.45" stroke-width="0.5"/>
<circle cx="390.69" cy="278.19" r="0.92" fill="#ffffff" fill-opacity="0.35"/>
<circle cx="392.50" cy="275.50" r="2.3" fill="#1a1a1a" stroke="#3a3a3a" stroke-opacity="0.45" stroke-width="0.5"/>
<circle cx="391.69" cy="274.69" r="0.92" fill="#ffffff" fill-opacity="0.35"/>
<circle cx="392.80" cy="270.00" r="2.3" fill="#40c0c8" stroke="#3a3a3a" stroke-opacity="0.45" stroke-width="0.5"/>
<circle cx="392.00" cy="269.19" r="0.92" fill="#ffffff" fill-opacity="0.35"/>
<circle cx="393.00" cy="265.00" r="2.3" fill="#5aa878" stroke="#3a3a3a" stroke-opacity="0.45" stroke-width="0.5"/>
<circle cx="392.19" cy="264.19" r="0.92" fill="#ffffff" fill-opacity="0.35"/>
<circle cx="393.00" cy="261.00" r="2.3" fill="#8a6a60" stroke="#3a3a3a" stroke-opacity="0.45" stroke-width="0.5"/>
<circle cx="392.19" cy="260.19" r="0.92" fill="#ffffff" fill-opacity="0.35"/>
<circle cx="393.10" cy="257.50" r="2.3" fill="#40c0c8" stroke="#3a3a3a" stroke-opacity="0.45" stroke-width="0.5"/>
<circle cx="392.30" cy="256.69" r="0.92" fill="#ffffff" fill-opacity="0.35"/>
<circle cx="325.90" cy="350.80" r="2.4" fill="#1a1a1a" stroke="#3a3a3a" stroke-opacity="0.45" stroke-width="0.5"/>
<circle cx="325.06" cy="349.96" r="0.96" fill="#ffffff" fill-opacity="0.35"/>
<circle cx="366.50" cy="335.30" r="2.4" fill="#1a1a1a" stroke="#3a3a3a" stroke-opacity="0.45" stroke-width="0.5"/>
<circle cx="365.66" cy="334.46" r="0.96" fill="#ffffff" fill-opacity="0.35"/>
<rect x="304.3" y="206.3" width="215.09999999999997" height="161.59999999999997" fill="none" stroke="#4c4c4c" stroke-width="1.2"/>
<line x1="319.39" y1="367.90" x2="319.39" y2="365.40" stroke="#4c4c4c" stroke-width="1"/>
<line x1="319.39" y1="206.30" x2="319.39" y2="208.80" stroke="#4c4c4c" stroke-width="1"/>
<text x="319.39" y="379.10" font-size="10.5" text-anchor="middle" fill="#2a2a2a" font-family='"Liberation Sans", sans-serif' >9.0</text>
<line x1="350.11" y1="367.90" x2="350.11" y2="365.40" stroke="#4c4c4c" stroke-width="1"/>
<line x1="350.11" y1="206.30" x2="350.11" y2="208.80" stroke="#4c4c4c" stroke-width="1"/>
<text x="350.11" y="379.10" font-size="10.5" text-anchor="middle" fill="#2a2a2a" font-family='"Liberation Sans", sans-serif' >6.0</text>
<line x1="380.83" y1="367.90" x2="380.83" y2="365.40" stroke="#4c4c4c" stroke-width="1"/>
<line x1="380.83" y1="206.30" x2="380.83" y2="208.80" stroke="#4c4c4c" stroke-width="1"/>
<text x="380.83" y="379.10" font-size="10.5" text-anchor="middle" fill="#2a2a2a" font-family='"Liberation Sans", sans-serif' >3.0</text>
<line x1="411.55" y1="367.90" x2="411.55" y2="365.40" stroke="#4c4c4c" stroke-width="1"/>
<line x1="411.55" y1="206.30" x2="411.55" y2="208.80" stroke="#4c4c4c" stroke-width="1"/>
<text x="411.55" y="379.10" font-size="10.5" text-anchor="middle" fill="#2a2a2a" font-family='"Liberation Sans", sans-serif' >0.0</text>
<line x1="442.27" y1="367.90" x2="442.27" y2="365.40" stroke="#4c4c4c" stroke-width="1"/>
<line x1="442.27" y1="206.30" x2="442.27" y2="208.80" stroke="#4c4c4c" stroke-width="1"/>
<text x="442.27" y="379.10" font-size="10.5" text-anchor="middle" fill="#2a2a2a" font-family='"Liberation Sans", sans-serif' >-3.0</text>
<line x1="472.99" y1="367.90" x2="472.99" y2="365.40" stroke="#4c4c4c" stroke-width="1"/>
<line x1="472.99" y1="206.30" x2="472.99" y2="208.80" stroke="#4c4c4c" stroke-width="1"/>
<text x="472.99" y="379.10" font-size="10.5" text-anchor="middle" fill="#2a2a2a" font-family='"Liberation Sans", sans-serif' >-6.0</text>
<line x1="503.71" y1="367.90" x2="503.71" y2="365.40" stroke="#4c4c4c" stroke-width="1"/>
<line x1="503.71" y1="206.30" x2="503.71" y2="208.80" stroke="#4c4c4c" stroke-width="1"/>
<text x="503.71" y="379.10" font-size="10.5" text-anchor="middle" fill="#2a2a2a" font-family='"Liberation Sans", sans-serif' >-9.0</text>
<line x1="304.30" y1="367.90" x2="306.80" y2="367.90" stroke="#4c4c4c" stroke-width="1"/>
<line x1="519.40" y1="367.90" x2="516.90" y2="367.90" stroke="#4c4c4c" stroke-width="1"/>
<text x="300.90" y="371.60" font-size="10.5" text-anchor="end" fill="#2a2a2a" font-family='"Liberation Sans", sans-serif' >0.0</text>
<line x1="304.30" y1="314.03" x2="306.80" y2="314.03" stroke="#4c4c4c" stroke-width="1"/>
<line x1="519.40" y1="314.03" x2="516.90" y2="314.03" stroke="#4c4c4c" stroke-width="1"/>
<text x="300.90" y="317.73" font-size="10.5" text-anchor="end" fill="#2a2a2a" font-family='"Liberation Sans", sans-serif' >1.0</text>
<line x1="304.30" y1="260.16" x2="306.80" y2="260.16" stroke="#4c4c4c" stroke-width="1"/>
<line x1="519.40" y1="260.16" x2="516.90" y2="260.16" stroke="#4c4c4c" stroke-width="1"/>
<text x="300.90" y="263.86" font-size="10.5" text-anchor="end" fill="#2a2a2a" font-family='"Liberation Sans", sans-serif' >2.0</text>
<line x1="304.30" y1="206.29" x2="306.80" y2="206.29" stroke="#4c4c4c" stroke-width="1"/>
<line x1="519.40" y1="206.29" x2="516.90" y2="206.29" stroke="#4c4c4c" stroke-width="1"/>
<text x="300.90" y="209.99" font-size="10.5" text-anchor="end" fill="#2a2a2a" font-family='"Liberation Sans", sans-serif' >3.0</text>
<text x="308.00" y="226.20" font-size="14" text-anchor="start" fill="#111" font-family='"Liberation Sans", sans-serif' >(d)</text>
<line x1="333.4" y1="223.4" x2="345.9" y2="223.4" stroke="#333333" stroke-width="0.9"/>
<circle cx="339.60" cy="223.40" r="2.6" fill="#1a1a1a" stroke="#3a3a3a" stroke-opacity="0.45" stroke-width="0.5"/>
<circle cx="338.69" cy="222.49" r="1.04" fill="#ffffff" fill-opacity="0.35"/>
<text x="350.20" y="226.00" font-size="7.4" text-anchor="start" fill="#333" font-family='"Liberation Sans", sans-serif' >300 K</text>
<line x1="333.4" y1="232.20000000000002" x2="345.9" y2="232.20000000000002" stroke="#e06060" stroke-width="0.9"/>
<circle cx="339.60" cy="232.20" r="2.6" fill="#e02828" stroke="#3a3a3a" stroke-opacity="0.45" stroke-width="0.5"/>
<circle cx="338.69" cy="231.29" r="1.04" fill="#ffffff" fill-opacity="0.35"/>
<text x="350.20" y="234.80" font-size="7.4" text-anchor="start" fill="#333" font-family='"Liberation Sans", sans-serif' >270 K</text>
<line x1="333.4" y1="241.0" x2="345.9" y2="241.0" stroke="#6a8ad8" stroke-width="0.9"/>
<circle cx="339.60" cy="241.00" r="2.6" fill="#3a6ad0" stroke="#3a3a3a" stroke-opacity="0.45" stroke-width="0.5"/>
<circle cx="338.69" cy="240.09" r="1.04" fill="#ffffff" fill-opacity="0.35"/>
<text x="350.20" y="243.60" font-size="7.4" text-anchor="start" fill="#333" font-family='"Liberation Sans", sans-serif' >240 K</text>
<line x1="333.4" y1="249.8" x2="345.9" y2="249.8" stroke="#70b088" stroke-width="0.9"/>
<circle cx="339.60" cy="249.80" r="2.6" fill="#5aa878" stroke="#3a3a3a" stroke-opacity="0.45" stroke-width="0.5"/>
<circle cx="338.69" cy="248.89" r="1.04" fill="#ffffff" fill-opacity="0.35"/>
<text x="350.20" y="252.40" font-size="7.4" text-anchor="start" fill="#333" font-family='"Liberation Sans", sans-serif' >210 K</text>
<line x1="333.4" y1="258.6" x2="345.9" y2="258.6" stroke="#b090e0" stroke-width="0.9"/>
<circle cx="339.60" cy="258.60" r="2.6" fill="#a888d8" stroke="#3a3a3a" stroke-opacity="0.45" stroke-width="0.5"/>
<circle cx="338.69" cy="257.69" r="1.04" fill="#ffffff" fill-opacity="0.35"/>
<text x="350.20" y="261.20" font-size="7.4" text-anchor="start" fill="#333" font-family='"Liberation Sans", sans-serif' >180 K</text>
<line x1="333.4" y1="267.4" x2="345.9" y2="267.4" stroke="#d0b060" stroke-width="0.9"/>
<circle cx="339.60" cy="267.40" r="2.6" fill="#c8b050" stroke="#3a3a3a" stroke-opacity="0.45" stroke-width="0.5"/>
<circle cx="338.69" cy="266.49" r="1.04" fill="#ffffff" fill-opacity="0.35"/>
<text x="350.20" y="270.00" font-size="7.4" text-anchor="start" fill="#333" font-family='"Liberation Sans", sans-serif' >150 K</text>
<line x1="333.4" y1="276.2" x2="345.9" y2="276.2" stroke="#60d0d8" stroke-width="0.9"/>
<circle cx="339.60" cy="276.20" r="2.6" fill="#40c0c8" stroke="#3a3a3a" stroke-opacity="0.45" stroke-width="0.5"/>
<circle cx="338.69" cy="275.29" r="1.04" fill="#ffffff" fill-opacity="0.35"/>
<text x="350.20" y="278.80" font-size="7.4" text-anchor="start" fill="#333" font-family='"Liberation Sans", sans-serif' >120 K</text>
<line x1="333.4" y1="285.0" x2="345.9" y2="285.0" stroke="#906860" stroke-width="0.9"/>
<circle cx="339.60" cy="285.00" r="2.6" fill="#8a6a60" stroke="#3a3a3a" stroke-opacity="0.45" stroke-width="0.5"/>
<circle cx="338.69" cy="284.09" r="1.04" fill="#ffffff" fill-opacity="0.35"/>
<text x="350.20" y="287.60" font-size="7.4" text-anchor="start" fill="#333" font-family='"Liberation Sans", sans-serif' >100 K</text>
<text x="467.70" y="227.60" font-size="11.2" text-anchor="start" fill="#222" font-family='"Liberation Sans", sans-serif' >Holes</text>
<text x="325.00" y="312.90" font-size="11.2" text-anchor="start" fill="#222" font-family='"Liberation Sans", sans-serif' >Electrons</text>
<text x="421.9" y="270.8" font-size="9.5" font-weight="bold" font-style="italic" fill="#555" font-family='"Liberation Serif", serif'>Electrons</text>
<text x="484.6" y="270.8" font-size="9.5" font-weight="bold" font-style="italic" fill="#555" font-family='"Liberation Serif", serif'>Holes</text>
<line x1="463" y1="268" x2="482" y2="268" stroke="#444" stroke-width="0.8"/><polygon points="460.5,268 464.5,266.3 464.5,269.7" fill="#444"/>
<defs>
<linearGradient id="cb1" x1="0" y1="0" x2="0" y2="1"><stop offset="0" stop-color="#8ab0e0"/><stop offset="0.08" stop-color="#4a7cc8"/><stop offset="0.45" stop-color="#5a8ad0"/><stop offset="1" stop-color="#ffffff"/></linearGradient>
<linearGradient id="vb1" x1="0" y1="0" x2="0" y2="1"><stop offset="0" stop-color="#ffffff"/><stop offset="0.4" stop-color="#f07078"/><stop offset="0.7" stop-color="#e82030"/><stop offset="0.9" stop-color="#d80a18"/><stop offset="1" stop-color="#f05060"/></linearGradient>
<linearGradient id="vbs1" x1="0" y1="0" x2="0" y2="1"><stop offset="0" stop-color="#e83040"/><stop offset="0.6" stop-color="#e81828"/><stop offset="0.88" stop-color="#d00a18"/><stop offset="1" stop-color="#f05060"/></linearGradient>
<linearGradient id="ebl1" x1="0" y1="0" x2="0" y2="1"><stop offset="0" stop-color="#e8f0fa"/><stop offset="1" stop-color="#6a9ad8"/></linearGradient>
</defs>
<polygon points="431.40000000000003,309.8 459.8,309.8 445.6,335.0" fill="url(#cb1)"/>
<polygon points="445.6,335.0 431.40000000000003,360.7 459.8,360.7" fill="url(#vb1)"/>
<polygon points="441.65555555555557,328.0 449.5444444444445,328.0 445.6,335.0" fill="#e01828"/>
<text x="445.6" y="320.6" font-size="6" font-weight="bold" text-anchor="middle" fill="#1e3a78" font-family='"Liberation Sans", sans-serif'>CB</text>
<text x="445.6" y="355.2" font-size="6" font-weight="bold" text-anchor="middle" fill="#700810" font-family='"Liberation Sans", sans-serif'>VB</text>
<defs>
<linearGradient id="cb2" x1="0" y1="0" x2="0" y2="1"><stop offset="0" stop-color="#8ab0e0"/><stop offset="0.08" stop-color="#4a7cc8"/><stop offset="0.45" stop-color="#5a8ad0"/><stop offset="1" stop-color="#ffffff"/></linearGradient>
<linearGradient id="vb2" x1="0" y1="0" x2="0" y2="1"><stop offset="0" stop-color="#ffffff"/><stop offset="0.4" stop-color="#f07078"/><stop offset="0.7" stop-color="#e82030"/><stop offset="0.9" stop-color="#d80a18"/><stop offset="1" stop-color="#f05060"/></linearGradient>
<linearGradient id="vbs2" x1="0" y1="0" x2="0" y2="1"><stop offset="0" stop-color="#e83040"/><stop offset="0.6" stop-color="#e81828"/><stop offset="0.88" stop-color="#d00a18"/><stop offset="1" stop-color="#f05060"/></linearGradient>
<linearGradient id="ebl2" x1="0" y1="0" x2="0" y2="1"><stop offset="0" stop-color="#e8f0fa"/><stop offset="1" stop-color="#6a9ad8"/></linearGradient>
</defs>
<polygon points="457.4,292.5 485.0,292.5 471.2,318.2" fill="url(#cb2)"/>
<polygon points="471.2,318.2 457.4,344.3 485.0,344.3" fill="url(#vb2)"/>
<text x="471.2" y="303.3" font-size="6" font-weight="bold" text-anchor="middle" fill="#1e3a78" font-family='"Liberation Sans", sans-serif'>CB</text>
<text x="471.2" y="338.8" font-size="6" font-weight="bold" text-anchor="middle" fill="#700810" font-family='"Liberation Sans", sans-serif'>VB</text>
<defs>
<linearGradient id="cb3" x1="0" y1="0" x2="0" y2="1"><stop offset="0" stop-color="#8ab0e0"/><stop offset="0.08" stop-color="#4a7cc8"/><stop offset="0.45" stop-color="#5a8ad0"/><stop offset="1" stop-color="#ffffff"/></linearGradient>
<linearGradient id="vb3" x1="0" y1="0" x2="0" y2="1"><stop offset="0" stop-color="#ffffff"/><stop offset="0.4" stop-color="#f07078"/><stop offset="0.7" stop-color="#e82030"/><stop offset="0.9" stop-color="#d80a18"/><stop offset="1" stop-color="#f05060"/></linearGradient>
<linearGradient id="vbs3" x1="0" y1="0" x2="0" y2="1"><stop offset="0" stop-color="#e83040"/><stop offset="0.6" stop-color="#e81828"/><stop offset="0.88" stop-color="#d00a18"/><stop offset="1" stop-color="#f05060"/></linearGradient>
<linearGradient id="ebl3" x1="0" y1="0" x2="0" y2="1"><stop offset="0" stop-color="#e8f0fa"/><stop offset="1" stop-color="#6a9ad8"/></linearGradient>
</defs>
<polygon points="482.8,274.3 511.2,274.3 497.0,300.2" fill="url(#cb3)"/>
<polygon points="497.0,300.2 492.88803088803087,307.7 501.11196911196913,307.7" fill="url(#ebl3)"/>
<polygon points="492.88803088803087,307.7 501.11196911196913,307.7 511.2,326.2 482.8,326.2" fill="url(#vbs3)"/>
<text x="497.0" y="285.1" font-size="6" font-weight="bold" text-anchor="middle" fill="#1e3a78" font-family='"Liberation Sans", sans-serif'>CB</text>
<text x="497.0" y="320.7" font-size="6" font-weight="bold" text-anchor="middle" fill="#700810" font-family='"Liberation Sans", sans-serif'>VB</text>
<text x="434.2" y="330.3" font-size="7.6" font-style="italic" fill="#222" font-family='"Liberation Serif", serif'>E<tspan font-size="5" dy="1.3">F</tspan></text>
<text x="474.8" y="320.3" font-size="7.6" font-style="italic" fill="#222" font-family='"Liberation Serif", serif'>E<tspan font-size="5" dy="1.3">F</tspan></text>
<text x="503.5" y="310.3" font-size="7.6" font-style="italic" fill="#222" font-family='"Liberation Serif", serif'>E<tspan font-size="5" dy="1.3">F</tspan></text>
<text x="371.9" y="400.2" font-size="12.8" fill="#2a2a2a" font-family='"Liberation Sans", sans-serif'><tspan font-style="italic">n</tspan> [x10<tspan font-size="9.4" dy="-5">12</tspan><tspan dy="5"> cm</tspan><tspan font-size="9.4" dy="-5">-2</tspan><tspan dy="5">]</tspan></text>
<text transform="translate(279.2,329) rotate(-90)" font-size="13.6" fill="#2a2a2a" font-family='"Liberation Sans", sans-serif'><tspan font-style="italic">μ</tspan><tspan font-size="8.5" dy="3" font-style="italic">H</tspan><tspan dy="-3"> [cm</tspan><tspan font-size="8.5" dy="-5">2</tspan><tspan dy="5"> V</tspan><tspan font-size="8.5" dy="-5">-1</tspan><tspan dy="5">s</tspan><tspan font-size="8.5" dy="-5">-1</tspan><tspan dy="5">]</tspan></text>
</svg></body></html>
